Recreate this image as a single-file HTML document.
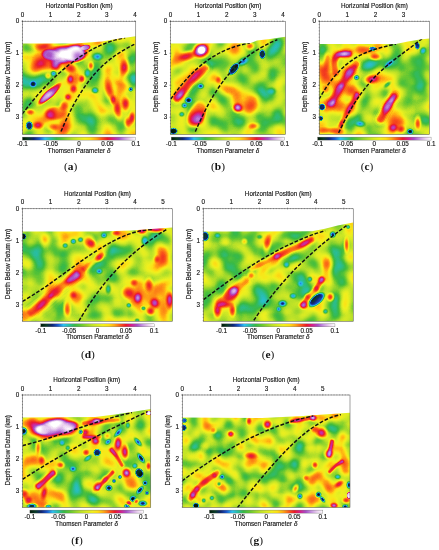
<!DOCTYPE html><html><head><meta charset="utf-8"><title>Figure</title><style>html,body{margin:0;padding:0;background:#fff}svg{display:block}text{font-family:"Liberation Sans",sans-serif;font-size:6.3px;fill:#111;stroke:#111;stroke-width:0.13px}.cap{font-family:"Liberation Serif",serif;font-size:11.4px;fill:#111;stroke:none}.cap tspan{font-weight:bold}</style></head><body>
<svg width="439" height="550" viewBox="0 0 439 550">
<defs>
<filter id="cma" x="0" y="0" width="1" height="1" color-interpolation-filters="sRGB"><feGaussianBlur in="SourceGraphic" stdDeviation="0.7" result="f"/><feTurbulence type="fractalNoise" baseFrequency="0.07" numOctaves="1" seed="1" result="t"/><feColorMatrix in="t" type="matrix" values="1 0 0 0 0 1 0 0 0 0 1 0 0 0 0 0 0 0 0 1" result="n"/><feComposite operator="arithmetic" in="f" in2="n" k1="0" k2="1" k3="0.5" k4="-0.25" result="s"/><feComponentTransfer in="s"><feFuncR type="table" tableValues="0.000 0.019 0.037 0.048 0.057 0.074 0.092 0.124 0.161 0.173 0.166 0.158 0.175 0.197 0.224 0.314 0.438 0.576 0.695 0.791 0.871 0.937 0.979 1.000 1.000 0.993 0.987 0.980 0.961 0.939 0.908 0.870 0.815 0.721 0.662 0.728 0.794 0.860 0.924 0.962 1.000"/><feFuncG type="table" tableValues="0.098 0.163 0.228 0.194 0.147 0.211 0.304 0.467 0.663 0.745 0.745 0.745 0.739 0.732 0.728 0.757 0.795 0.834 0.873 0.904 0.928 0.939 0.900 0.809 0.659 0.554 0.450 0.345 0.263 0.173 0.102 0.111 0.146 0.240 0.343 0.475 0.605 0.718 0.830 0.915 1.000"/><feFuncB type="table" tableValues="0.020 0.085 0.150 0.282 0.422 0.583 0.751 0.849 0.914 0.886 0.769 0.651 0.522 0.389 0.271 0.225 0.190 0.176 0.162 0.150 0.137 0.121 0.095 0.078 0.078 0.085 0.092 0.098 0.118 0.139 0.227 0.416 0.583 0.696 0.795 0.842 0.887 0.915 0.943 0.972 1.000"/></feComponentTransfer></filter>
<filter id="cmb" x="0" y="0" width="1" height="1" color-interpolation-filters="sRGB"><feGaussianBlur in="SourceGraphic" stdDeviation="0.7" result="f"/><feTurbulence type="fractalNoise" baseFrequency="0.07" numOctaves="1" seed="2" result="t"/><feColorMatrix in="t" type="matrix" values="1 0 0 0 0 1 0 0 0 0 1 0 0 0 0 0 0 0 0 1" result="n"/><feComposite operator="arithmetic" in="f" in2="n" k1="0" k2="1" k3="0.5" k4="-0.25" result="s"/><feComponentTransfer in="s"><feFuncR type="table" tableValues="0.000 0.019 0.037 0.048 0.057 0.074 0.092 0.124 0.161 0.173 0.166 0.158 0.175 0.197 0.224 0.314 0.438 0.576 0.695 0.791 0.871 0.937 0.979 1.000 1.000 0.993 0.987 0.980 0.961 0.939 0.908 0.870 0.815 0.721 0.662 0.728 0.794 0.860 0.924 0.962 1.000"/><feFuncG type="table" tableValues="0.098 0.163 0.228 0.194 0.147 0.211 0.304 0.467 0.663 0.745 0.745 0.745 0.739 0.732 0.728 0.757 0.795 0.834 0.873 0.904 0.928 0.939 0.900 0.809 0.659 0.554 0.450 0.345 0.263 0.173 0.102 0.111 0.146 0.240 0.343 0.475 0.605 0.718 0.830 0.915 1.000"/><feFuncB type="table" tableValues="0.020 0.085 0.150 0.282 0.422 0.583 0.751 0.849 0.914 0.886 0.769 0.651 0.522 0.389 0.271 0.225 0.190 0.176 0.162 0.150 0.137 0.121 0.095 0.078 0.078 0.085 0.092 0.098 0.118 0.139 0.227 0.416 0.583 0.696 0.795 0.842 0.887 0.915 0.943 0.972 1.000"/></feComponentTransfer></filter>
<filter id="cmc" x="0" y="0" width="1" height="1" color-interpolation-filters="sRGB"><feGaussianBlur in="SourceGraphic" stdDeviation="0.7" result="f"/><feTurbulence type="fractalNoise" baseFrequency="0.07" numOctaves="1" seed="3" result="t"/><feColorMatrix in="t" type="matrix" values="1 0 0 0 0 1 0 0 0 0 1 0 0 0 0 0 0 0 0 1" result="n"/><feComposite operator="arithmetic" in="f" in2="n" k1="0" k2="1" k3="0.5" k4="-0.25" result="s"/><feComponentTransfer in="s"><feFuncR type="table" tableValues="0.000 0.019 0.037 0.048 0.057 0.074 0.092 0.124 0.161 0.173 0.166 0.158 0.175 0.197 0.224 0.314 0.438 0.576 0.695 0.791 0.871 0.937 0.979 1.000 1.000 0.993 0.987 0.980 0.961 0.939 0.908 0.870 0.815 0.721 0.662 0.728 0.794 0.860 0.924 0.962 1.000"/><feFuncG type="table" tableValues="0.098 0.163 0.228 0.194 0.147 0.211 0.304 0.467 0.663 0.745 0.745 0.745 0.739 0.732 0.728 0.757 0.795 0.834 0.873 0.904 0.928 0.939 0.900 0.809 0.659 0.554 0.450 0.345 0.263 0.173 0.102 0.111 0.146 0.240 0.343 0.475 0.605 0.718 0.830 0.915 1.000"/><feFuncB type="table" tableValues="0.020 0.085 0.150 0.282 0.422 0.583 0.751 0.849 0.914 0.886 0.769 0.651 0.522 0.389 0.271 0.225 0.190 0.176 0.162 0.150 0.137 0.121 0.095 0.078 0.078 0.085 0.092 0.098 0.118 0.139 0.227 0.416 0.583 0.696 0.795 0.842 0.887 0.915 0.943 0.972 1.000"/></feComponentTransfer></filter>
<filter id="cmd" x="0" y="0" width="1" height="1" color-interpolation-filters="sRGB"><feGaussianBlur in="SourceGraphic" stdDeviation="0.7" result="f"/><feTurbulence type="fractalNoise" baseFrequency="0.07" numOctaves="1" seed="4" result="t"/><feColorMatrix in="t" type="matrix" values="1 0 0 0 0 1 0 0 0 0 1 0 0 0 0 0 0 0 0 1" result="n"/><feComposite operator="arithmetic" in="f" in2="n" k1="0" k2="1" k3="0.5" k4="-0.25" result="s"/><feComponentTransfer in="s"><feFuncR type="table" tableValues="0.000 0.019 0.037 0.048 0.057 0.074 0.092 0.124 0.161 0.173 0.166 0.158 0.175 0.197 0.224 0.314 0.438 0.576 0.695 0.791 0.871 0.937 0.979 1.000 1.000 0.993 0.987 0.980 0.961 0.939 0.908 0.870 0.815 0.721 0.662 0.728 0.794 0.860 0.924 0.962 1.000"/><feFuncG type="table" tableValues="0.098 0.163 0.228 0.194 0.147 0.211 0.304 0.467 0.663 0.745 0.745 0.745 0.739 0.732 0.728 0.757 0.795 0.834 0.873 0.904 0.928 0.939 0.900 0.809 0.659 0.554 0.450 0.345 0.263 0.173 0.102 0.111 0.146 0.240 0.343 0.475 0.605 0.718 0.830 0.915 1.000"/><feFuncB type="table" tableValues="0.020 0.085 0.150 0.282 0.422 0.583 0.751 0.849 0.914 0.886 0.769 0.651 0.522 0.389 0.271 0.225 0.190 0.176 0.162 0.150 0.137 0.121 0.095 0.078 0.078 0.085 0.092 0.098 0.118 0.139 0.227 0.416 0.583 0.696 0.795 0.842 0.887 0.915 0.943 0.972 1.000"/></feComponentTransfer></filter>
<filter id="cme" x="0" y="0" width="1" height="1" color-interpolation-filters="sRGB"><feGaussianBlur in="SourceGraphic" stdDeviation="0.7" result="f"/><feTurbulence type="fractalNoise" baseFrequency="0.07" numOctaves="1" seed="5" result="t"/><feColorMatrix in="t" type="matrix" values="1 0 0 0 0 1 0 0 0 0 1 0 0 0 0 0 0 0 0 1" result="n"/><feComposite operator="arithmetic" in="f" in2="n" k1="0" k2="1" k3="0.5" k4="-0.25" result="s"/><feComponentTransfer in="s"><feFuncR type="table" tableValues="0.000 0.019 0.037 0.048 0.057 0.074 0.092 0.124 0.161 0.173 0.166 0.158 0.175 0.197 0.224 0.314 0.438 0.576 0.695 0.791 0.871 0.937 0.979 1.000 1.000 0.993 0.987 0.980 0.961 0.939 0.908 0.870 0.815 0.721 0.662 0.728 0.794 0.860 0.924 0.962 1.000"/><feFuncG type="table" tableValues="0.098 0.163 0.228 0.194 0.147 0.211 0.304 0.467 0.663 0.745 0.745 0.745 0.739 0.732 0.728 0.757 0.795 0.834 0.873 0.904 0.928 0.939 0.900 0.809 0.659 0.554 0.450 0.345 0.263 0.173 0.102 0.111 0.146 0.240 0.343 0.475 0.605 0.718 0.830 0.915 1.000"/><feFuncB type="table" tableValues="0.020 0.085 0.150 0.282 0.422 0.583 0.751 0.849 0.914 0.886 0.769 0.651 0.522 0.389 0.271 0.225 0.190 0.176 0.162 0.150 0.137 0.121 0.095 0.078 0.078 0.085 0.092 0.098 0.118 0.139 0.227 0.416 0.583 0.696 0.795 0.842 0.887 0.915 0.943 0.972 1.000"/></feComponentTransfer></filter>
<filter id="cmf" x="0" y="0" width="1" height="1" color-interpolation-filters="sRGB"><feGaussianBlur in="SourceGraphic" stdDeviation="0.7" result="f"/><feTurbulence type="fractalNoise" baseFrequency="0.07" numOctaves="1" seed="6" result="t"/><feColorMatrix in="t" type="matrix" values="1 0 0 0 0 1 0 0 0 0 1 0 0 0 0 0 0 0 0 1" result="n"/><feComposite operator="arithmetic" in="f" in2="n" k1="0" k2="1" k3="0.5" k4="-0.25" result="s"/><feComponentTransfer in="s"><feFuncR type="table" tableValues="0.000 0.019 0.037 0.048 0.057 0.074 0.092 0.124 0.161 0.173 0.166 0.158 0.175 0.197 0.224 0.314 0.438 0.576 0.695 0.791 0.871 0.937 0.979 1.000 1.000 0.993 0.987 0.980 0.961 0.939 0.908 0.870 0.815 0.721 0.662 0.728 0.794 0.860 0.924 0.962 1.000"/><feFuncG type="table" tableValues="0.098 0.163 0.228 0.194 0.147 0.211 0.304 0.467 0.663 0.745 0.745 0.745 0.739 0.732 0.728 0.757 0.795 0.834 0.873 0.904 0.928 0.939 0.900 0.809 0.659 0.554 0.450 0.345 0.263 0.173 0.102 0.111 0.146 0.240 0.343 0.475 0.605 0.718 0.830 0.915 1.000"/><feFuncB type="table" tableValues="0.020 0.085 0.150 0.282 0.422 0.583 0.751 0.849 0.914 0.886 0.769 0.651 0.522 0.389 0.271 0.225 0.190 0.176 0.162 0.150 0.137 0.121 0.095 0.078 0.078 0.085 0.092 0.098 0.118 0.139 0.227 0.416 0.583 0.696 0.795 0.842 0.887 0.915 0.943 0.972 1.000"/></feComponentTransfer></filter>
<filter id="cmg" x="0" y="0" width="1" height="1" color-interpolation-filters="sRGB"><feGaussianBlur in="SourceGraphic" stdDeviation="0.7" result="f"/><feTurbulence type="fractalNoise" baseFrequency="0.085" numOctaves="1" seed="7" result="t"/><feColorMatrix in="t" type="matrix" values="1 0 0 0 0 1 0 0 0 0 1 0 0 0 0 0 0 0 0 1" result="n"/><feComposite operator="arithmetic" in="f" in2="n" k1="0" k2="1" k3="0.5" k4="-0.25" result="s"/><feComponentTransfer in="s"><feFuncR type="table" tableValues="0.000 0.019 0.037 0.048 0.057 0.074 0.092 0.124 0.161 0.173 0.166 0.158 0.175 0.197 0.224 0.314 0.438 0.576 0.695 0.791 0.871 0.937 0.979 1.000 1.000 0.993 0.987 0.980 0.961 0.939 0.908 0.870 0.815 0.721 0.662 0.728 0.794 0.860 0.924 0.962 1.000"/><feFuncG type="table" tableValues="0.098 0.163 0.228 0.194 0.147 0.211 0.304 0.467 0.663 0.745 0.745 0.745 0.739 0.732 0.728 0.757 0.795 0.834 0.873 0.904 0.928 0.939 0.900 0.809 0.659 0.554 0.450 0.345 0.263 0.173 0.102 0.111 0.146 0.240 0.343 0.475 0.605 0.718 0.830 0.915 1.000"/><feFuncB type="table" tableValues="0.020 0.085 0.150 0.282 0.422 0.583 0.751 0.849 0.914 0.886 0.769 0.651 0.522 0.389 0.271 0.225 0.190 0.176 0.162 0.150 0.137 0.121 0.095 0.078 0.078 0.085 0.092 0.098 0.118 0.139 0.227 0.416 0.583 0.696 0.795 0.842 0.887 0.915 0.943 0.972 1.000"/></feComponentTransfer></filter>
<radialGradient id="gw"><stop offset="0" stop-color="#fff" stop-opacity="1"/><stop offset="0.2" stop-color="#fff" stop-opacity="0.92"/><stop offset="0.4" stop-color="#fff" stop-opacity="0.7"/><stop offset="0.6" stop-color="#fff" stop-opacity="0.4"/><stop offset="0.8" stop-color="#fff" stop-opacity="0.14"/><stop offset="1" stop-color="#fff" stop-opacity="0"/></radialGradient>
<radialGradient id="gk"><stop offset="0" stop-color="#000" stop-opacity="1"/><stop offset="0.2" stop-color="#000" stop-opacity="0.92"/><stop offset="0.4" stop-color="#000" stop-opacity="0.7"/><stop offset="0.6" stop-color="#000" stop-opacity="0.4"/><stop offset="0.8" stop-color="#000" stop-opacity="0.14"/><stop offset="1" stop-color="#000" stop-opacity="0"/></radialGradient>
<radialGradient id="pw"><stop offset="0" stop-color="#fff" stop-opacity="1"/><stop offset="0.5" stop-color="#fff" stop-opacity="1"/><stop offset="0.65" stop-color="#fff" stop-opacity="0.85"/><stop offset="0.8" stop-color="#fff" stop-opacity="0.45"/><stop offset="0.9" stop-color="#fff" stop-opacity="0.15"/><stop offset="1" stop-color="#fff" stop-opacity="0"/></radialGradient>
<radialGradient id="pk"><stop offset="0" stop-color="#000" stop-opacity="1"/><stop offset="0.5" stop-color="#000" stop-opacity="1"/><stop offset="0.65" stop-color="#000" stop-opacity="0.85"/><stop offset="0.8" stop-color="#000" stop-opacity="0.45"/><stop offset="0.9" stop-color="#000" stop-opacity="0.15"/><stop offset="1" stop-color="#000" stop-opacity="0"/></radialGradient>
<linearGradient id="cb"><stop offset="0" stop-color="rgb(0,25,5)"/><stop offset="0.05" stop-color="rgb(10,60,40)"/><stop offset="0.1" stop-color="rgb(15,35,115)"/><stop offset="0.15" stop-color="rgb(25,85,205)"/><stop offset="0.2" stop-color="rgb(45,190,240)"/><stop offset="0.25" stop-color="rgb(40,190,160)"/><stop offset="0.3" stop-color="rgb(55,185,70)"/><stop offset="0.35" stop-color="rgb(95,198,50)"/><stop offset="0.4" stop-color="rgb(145,212,45)"/><stop offset="0.45" stop-color="rgb(188,226,40)"/><stop offset="0.5" stop-color="rgb(218,236,36)"/><stop offset="0.55" stop-color="rgb(242,240,30)"/><stop offset="0.6" stop-color="rgb(255,222,20)"/><stop offset="0.65" stop-color="rgb(255,168,20)"/><stop offset="0.7" stop-color="rgb(250,88,25)"/><stop offset="0.75" stop-color="rgb(235,25,40)"/><stop offset="0.8" stop-color="rgb(215,30,140)"/><stop offset="0.85" stop-color="rgb(165,80,200)"/><stop offset="0.9" stop-color="rgb(200,150,225)"/><stop offset="0.95" stop-color="rgb(235,210,240)"/><stop offset="1" stop-color="rgb(255,255,255)"/></linearGradient>
</defs>
<rect width="439" height="550" fill="#fff"/>
<clipPath id="clipa"><polygon points="22.5,43.6 75.0,43.6 102.0,41.4 118.0,38.7 135.8,36.3 135.8,134.5 22.5,134.5"/></clipPath>
<g clip-path="url(#clipa)"><g filter="url(#cma)">
<rect x="17.5" y="16.2" width="123.2" height="123.2" fill="rgb(122,122,122)"/>
<ellipse cx="28" cy="49.5" rx="12.8" ry="8.8" fill="url(#gk)" opacity="0.4"/>
<ellipse cx="36" cy="80" rx="22.4" ry="16" fill="url(#gk)" opacity="0.28"/>
<ellipse cx="31" cy="88" rx="12.8" ry="19.2" fill="url(#gk)" opacity="0.3"/>
<ellipse cx="30" cy="104" rx="11.2" ry="11.2" fill="url(#gk)" opacity="0.2"/>
<ellipse cx="107" cy="50" rx="27.2" ry="9.6" fill="url(#gk)" opacity="0.32" transform="rotate(-15 107 50)"/>
<ellipse cx="90" cy="78" rx="14.4" ry="28.8" fill="url(#gk)" opacity="0.32" transform="rotate(40 90 78)"/>
<ellipse cx="134" cy="60" rx="11.2" ry="14.4" fill="url(#gk)" opacity="0.3"/>
<ellipse cx="134" cy="80" rx="8" ry="16" fill="url(#gk)" opacity="0.25"/>
<ellipse cx="85" cy="117" rx="20.8" ry="17.6" fill="url(#gk)" opacity="0.22"/>
<ellipse cx="105" cy="122" rx="16" ry="11.2" fill="url(#gk)" opacity="0.2"/>
<ellipse cx="45" cy="62" rx="25.6" ry="14.4" fill="url(#gw)" opacity="0.2"/>
<ellipse cx="40" cy="60" rx="35.2" ry="25.6" fill="url(#gw)" opacity="0.22"/>
<ellipse cx="52" cy="118" rx="32" ry="19.2" fill="url(#gw)" opacity="0.18"/>
<ellipse cx="118" cy="95" rx="22.4" ry="48" fill="url(#gw)" opacity="0.06"/>
<ellipse cx="75" cy="95" rx="12.8" ry="32" fill="url(#gw)" opacity="0.22" transform="rotate(25 75 95)"/>
<ellipse cx="66" cy="128" rx="16" ry="8" fill="url(#gw)" opacity="0.2"/>
<ellipse cx="75" cy="82" rx="12.8" ry="19.2" fill="url(#gw)" opacity="0.22" transform="rotate(30 75 82)"/>
<ellipse cx="120" cy="85" rx="16" ry="35.2" fill="url(#gw)" opacity="0.08"/>
<ellipse cx="100" cy="41" rx="32" ry="5.6" fill="url(#gw)" opacity="0.3" transform="rotate(-15 100 41)"/>
<ellipse cx="100" cy="110" rx="11.2" ry="19.2" fill="url(#gw)" opacity="0.15"/>
<ellipse cx="33.1" cy="84.2" rx="4.16" ry="4.16" fill="url(#gk)" opacity="0.97"/>
<ellipse cx="53.7" cy="73.3" rx="4" ry="4" fill="url(#gk)" opacity="0.55"/>
<ellipse cx="97.4" cy="56.5" rx="7.2" ry="4.8" fill="url(#gk)" opacity="0.55"/>
<ellipse cx="87.3" cy="73.3" rx="4" ry="5.6" fill="url(#gk)" opacity="0.5"/>
<ellipse cx="95" cy="90.6" rx="4.8" ry="4.16" fill="url(#gk)" opacity="0.62"/>
<ellipse cx="130.7" cy="89.3" rx="2.88" ry="2.88" fill="url(#gk)" opacity="0.8"/>
<ellipse cx="29.3" cy="125.5" rx="4.2" ry="4.8" fill="url(#pk)" opacity="0.86"/>
<ellipse cx="43" cy="47" rx="12.48" ry="6.24" fill="url(#gw)" opacity="0.392"/>
<ellipse cx="55.5" cy="65" rx="7.28" ry="7.28" fill="url(#gw)" opacity="0.504"/>
<ellipse cx="69.7" cy="68.5" rx="9.36" ry="7.28" fill="url(#gw)" opacity="0.504"/>
<ellipse cx="123.8" cy="68.5" rx="6.24" ry="13.52" fill="url(#gw)" opacity="0.504" transform="rotate(10 123.8 68.5)"/>
<ellipse cx="109.2" cy="90" rx="6.24" ry="14.56" fill="url(#gw)" opacity="0.504" transform="rotate(-10 109.2 90)"/>
<ellipse cx="125.6" cy="104.2" rx="5.2" ry="10.4" fill="url(#gw)" opacity="0.448"/>
<ellipse cx="117.5" cy="109" rx="5.2" ry="14.56" fill="url(#gw)" opacity="0.4032" transform="rotate(-10 117.5 109)"/>
<ellipse cx="128" cy="122.8" rx="5.2" ry="7.28" fill="url(#gw)" opacity="0.448"/>
<ellipse cx="56" cy="113" rx="13" ry="8" fill="url(#pw)" opacity="0.3" transform="rotate(-10 56 113)"/>
<ellipse cx="37.8" cy="125.5" rx="7.28" ry="5.2" fill="url(#gw)" opacity="0.448"/>
<ellipse cx="52.8" cy="127" rx="8.32" ry="5.2" fill="url(#gw)" opacity="0.448"/>
<ellipse cx="70" cy="79" rx="4.576" ry="6.24" fill="url(#gw)" opacity="0.504"/>
<ellipse cx="73.5" cy="89" rx="4.576" ry="5.2" fill="url(#gw)" opacity="0.504"/>
<ellipse cx="82" cy="79" rx="4.16" ry="5.2" fill="url(#gw)" opacity="0.504"/>
<ellipse cx="68" cy="97" rx="4.16" ry="4.16" fill="url(#gw)" opacity="0.448"/>
<ellipse cx="91" cy="66" rx="4.16" ry="6.24" fill="url(#gw)" opacity="0.504"/>
<ellipse cx="64" cy="106" rx="6.24" ry="6.24" fill="url(#gw)" opacity="0.504"/>
<ellipse cx="48" cy="76" rx="4.16" ry="4.16" fill="url(#gw)" opacity="0.392"/>
<ellipse cx="30" cy="112" rx="6.24" ry="4.16" fill="url(#gw)" opacity="0.392"/>
<ellipse cx="113" cy="100" rx="4.16" ry="6.24" fill="url(#gw)" opacity="0.504"/>
<ellipse cx="132" cy="118" rx="4.16" ry="8.32" fill="url(#gw)" opacity="0.448"/>
<ellipse cx="50" cy="93.5" rx="17" ry="4.8" fill="url(#pw)" opacity="0.6" transform="rotate(-43 50 93.5)"/>
<ellipse cx="46.5" cy="97" rx="14.56" ry="4.576" fill="url(#gw)" opacity="0.672" transform="rotate(-43 46.5 97)"/>
<ellipse cx="66" cy="54" rx="27" ry="11.5" fill="url(#pw)" opacity="0.6" transform="rotate(-5 66 54)"/>
<ellipse cx="51" cy="54.8" rx="11" ry="6.4" fill="url(#pw)" opacity="0.68" transform="rotate(10 51 54.8)"/>
<ellipse cx="75" cy="54" rx="12" ry="9.5" fill="url(#pw)" opacity="0.95"/>
<ellipse cx="85.5" cy="47.5" rx="6" ry="3.2" fill="url(#pw)" opacity="0.7" transform="rotate(-10 85.5 47.5)"/>
<ellipse cx="63" cy="52.5" rx="12.48" ry="8.32" fill="url(#gw)" opacity="0.784"/>
</g></g>
<path d="M22.2 114.0C23.8 112.1 28.4 106.0 31.6 102.2C34.7 98.4 37.8 94.8 40.9 91.4C44.0 87.9 47.2 84.7 50.3 81.6C53.4 78.4 56.5 75.5 59.7 72.7C62.8 69.9 65.9 67.3 69.0 64.8C72.1 62.4 75.3 60.1 78.4 57.9C81.5 55.8 84.6 53.8 87.7 52.0C90.9 50.2 94.0 48.5 97.1 47.0C100.2 45.5 103.4 44.1 106.5 42.9C109.6 41.7 112.7 40.7 115.8 39.8C119.0 38.9 123.6 38.0 125.2 37.6" fill="none" stroke="#111" stroke-width="1.45" stroke-dasharray="3.7 1.7" clip-path="url(#clipa)"/>
<path d="M61.0 131.5C62.1 129.0 65.4 121.2 67.7 116.5C69.9 111.9 72.1 107.6 74.3 103.5C76.5 99.5 78.8 95.7 81.0 92.3C83.2 88.8 85.4 85.6 87.7 82.6C89.9 79.6 92.1 76.9 94.3 74.3C96.5 71.8 98.8 69.4 101.0 67.3C103.2 65.1 105.4 63.1 107.6 61.3C109.9 59.4 112.1 57.7 114.3 56.2C116.5 54.6 118.8 53.1 121.0 51.7C123.2 50.4 125.4 49.1 127.6 47.8C129.9 46.6 133.2 44.9 134.3 44.3" fill="none" stroke="#111" stroke-width="1.45" stroke-dasharray="3.7 1.7" clip-path="url(#clipa)"/>
<rect x="22.50" y="21.25" width="113.25" height="113.25" fill="none" stroke="#555" stroke-width="0.55"/>
<path d="M22.50 20.17v1.8M25.31 20.71v0.9M28.12 20.71v0.9M30.93 20.71v0.9M33.74 20.71v0.9M36.55 20.71v0.9M39.36 20.71v0.9M42.17 20.71v0.9M44.98 20.71v0.9M47.79 20.71v0.9M50.60 20.17v1.8M53.41 20.71v0.9M56.22 20.71v0.9M59.03 20.71v0.9M61.84 20.71v0.9M64.65 20.71v0.9M67.46 20.71v0.9M70.27 20.71v0.9M73.08 20.71v0.9M75.89 20.71v0.9M78.70 20.17v1.8M81.51 20.71v0.9M84.32 20.71v0.9M87.13 20.71v0.9M89.94 20.71v0.9M92.75 20.71v0.9M95.56 20.71v0.9M98.37 20.71v0.9M101.18 20.71v0.9M103.99 20.71v0.9M106.80 20.17v1.8M109.61 20.71v0.9M112.42 20.71v0.9M115.23 20.71v0.9M118.04 20.71v0.9M120.85 20.71v0.9M123.66 20.71v0.9M126.47 20.71v0.9M129.28 20.71v0.9M132.09 20.71v0.9M134.90 20.17v1.8M21.42 21.25h1.8M21.96 24.45h0.9M21.96 27.65h0.9M21.96 30.85h0.9M21.96 34.05h0.9M21.96 37.25h0.9M21.96 40.45h0.9M21.96 43.65h0.9M21.96 46.85h0.9M21.96 50.05h0.9M21.42 53.25h1.8M21.96 56.45h0.9M21.96 59.65h0.9M21.96 62.85h0.9M21.96 66.05h0.9M21.96 69.25h0.9M21.96 72.45h0.9M21.96 75.65h0.9M21.96 78.85h0.9M21.96 82.05h0.9M21.42 85.25h1.8M21.96 88.45h0.9M21.96 91.65h0.9M21.96 94.85h0.9M21.96 98.05h0.9M21.96 101.25h0.9M21.96 104.45h0.9M21.96 107.65h0.9M21.96 110.85h0.9M21.96 114.05h0.9M21.42 117.25h1.8M21.96 120.45h0.9M21.96 123.65h0.9M21.96 126.85h0.9M21.96 130.05h0.9M21.96 133.25h0.9" stroke="#333" stroke-width="0.45" fill="none"/>
<text x="22.50" y="16.95" text-anchor="middle" font-size="5.9">0</text>
<text x="50.60" y="16.95" text-anchor="middle" font-size="5.9">1</text>
<text x="78.70" y="16.95" text-anchor="middle" font-size="5.9">2</text>
<text x="106.80" y="16.95" text-anchor="middle" font-size="5.9">3</text>
<text x="134.90" y="16.95" text-anchor="middle" font-size="5.9">4</text>
<text x="19.20" y="23.35" text-anchor="end" font-size="5.9">0</text>
<text x="19.20" y="55.35" text-anchor="end" font-size="5.9">1</text>
<text x="19.20" y="87.35" text-anchor="end" font-size="5.9">2</text>
<text x="19.20" y="119.35" text-anchor="end" font-size="5.9">3</text>
<text x="79.12" y="8.45" text-anchor="middle">Horizontal Position (km)</text>
<text transform="translate(10.30 76.88) rotate(-90)" text-anchor="middle">Depth Below Datum (km)</text>
<rect x="22.42" y="137.10" width="113.40" height="3.00" fill="url(#cb)" stroke="#555" stroke-width="0.3"/>
<text x="22.42" y="146.40" text-anchor="middle" font-size="5.9">-0.1</text>
<text x="50.77" y="146.40" text-anchor="middle" font-size="5.9">-0.05</text>
<text x="79.12" y="146.40" text-anchor="middle" font-size="5.9">0</text>
<text x="107.48" y="146.40" text-anchor="middle" font-size="5.9">0.05</text>
<text x="135.82" y="146.40" text-anchor="middle" font-size="5.9">0.1</text>
<text x="79.12" y="152.60" text-anchor="middle">Thomsen Parameter <tspan font-style="italic">δ</tspan></text>
<text class="cap" x="70.70" y="169.80" text-anchor="middle">(<tspan>a</tspan>)</text>
<clipPath id="clipb"><polygon points="170.5,43.4 250.0,43.2 257.0,40.6 270.0,39.0 285.5,36.8 285.5,134.5 170.5,134.5"/></clipPath>
<g clip-path="url(#clipb)"><g filter="url(#cmb)">
<rect x="165.5" y="16.2" width="125.0" height="123.2" fill="rgb(122,122,122)"/>
<ellipse cx="262" cy="90" rx="35.2" ry="64" fill="url(#gk)" opacity="0.22"/>
<ellipse cx="275" cy="60" rx="16" ry="22.4" fill="url(#gk)" opacity="0.2"/>
<ellipse cx="278" cy="49" rx="14.4" ry="12.8" fill="url(#gk)" opacity="0.3"/>
<ellipse cx="215" cy="62" rx="16" ry="8" fill="url(#gk)" opacity="0.25" transform="rotate(-35 215 62)"/>
<ellipse cx="196" cy="92" rx="9.6" ry="19.2" fill="url(#gk)" opacity="0.3" transform="rotate(40 196 92)"/>
<ellipse cx="224" cy="110" rx="12.8" ry="22.4" fill="url(#gk)" opacity="0.2" transform="rotate(20 224 110)"/>
<ellipse cx="230" cy="125" rx="22.4" ry="9.6" fill="url(#gk)" opacity="0.2"/>
<ellipse cx="178" cy="62" rx="12.8" ry="22.4" fill="url(#gw)" opacity="0.15"/>
<ellipse cx="225" cy="88" rx="12.8" ry="9.6" fill="url(#gw)" opacity="0.2"/>
<ellipse cx="266" cy="83" rx="9.6" ry="14.4" fill="url(#gw)" opacity="0.18"/>
<ellipse cx="250" cy="103" rx="20.8" ry="14.56" fill="url(#gw)" opacity="0.4256"/>
<ellipse cx="254" cy="126" rx="8" ry="4.8" fill="url(#gw)" opacity="0.3"/>
<ellipse cx="190" cy="56" rx="12.8" ry="6.4" fill="url(#gw)" opacity="0.3" transform="rotate(-20 190 56)"/>
<ellipse cx="262.3" cy="54.2" rx="3.4" ry="5.4" fill="url(#pk)" opacity="0.86"/>
<ellipse cx="233.8" cy="69" rx="4.2" ry="8.2" fill="url(#pk)" opacity="0.86" transform="rotate(38 233.8 69)"/>
<ellipse cx="243" cy="61.5" rx="8" ry="4.8" fill="url(#gk)" opacity="0.55" transform="rotate(-30 243 61.5)"/>
<ellipse cx="200.8" cy="86.2" rx="4.16" ry="3.52" fill="url(#gk)" opacity="0.75"/>
<ellipse cx="188.5" cy="100.1" rx="4.8" ry="3.84" fill="url(#gk)" opacity="0.9"/>
<ellipse cx="184.4" cy="105.5" rx="3.84" ry="3.52" fill="url(#gk)" opacity="0.6"/>
<ellipse cx="181.7" cy="114.3" rx="3.84" ry="3.52" fill="url(#gk)" opacity="0.55"/>
<ellipse cx="173.5" cy="131" rx="4.5" ry="3.5" fill="url(#pk)" opacity="0.9"/>
<ellipse cx="271.9" cy="91" rx="6.4" ry="4.8" fill="url(#gk)" opacity="0.3"/>
<ellipse cx="250" cy="46" rx="6.24" ry="5.824" fill="url(#gw)" opacity="0.616"/>
<ellipse cx="218.6" cy="80" rx="4" ry="4.8" fill="url(#gw)" opacity="0.3"/>
<path d="M177.0 98.0C178.2 96.7 181.3 93.0 184.0 90.0C186.7 87.0 189.5 83.7 193.0 80.0C196.5 76.3 203.0 70.0 205.0 68.0" fill="none" stroke="#fff" stroke-width="14.26" stroke-linecap="round" stroke-linejoin="round" opacity="0.056"/>
<path d="M177.0 98.0C178.2 96.7 181.3 93.0 184.0 90.0C186.7 87.0 189.5 83.7 193.0 80.0C196.5 76.3 203.0 70.0 205.0 68.0" fill="none" stroke="#fff" stroke-width="10.85" stroke-linecap="round" stroke-linejoin="round" opacity="0.107"/>
<path d="M177.0 98.0C178.2 96.7 181.3 93.0 184.0 90.0C186.7 87.0 189.5 83.7 193.0 80.0C196.5 76.3 203.0 70.0 205.0 68.0" fill="none" stroke="#fff" stroke-width="8.06" stroke-linecap="round" stroke-linejoin="round" opacity="0.199"/>
<path d="M177.0 98.0C178.2 96.7 181.3 93.0 184.0 90.0C186.7 87.0 189.5 83.7 193.0 80.0C196.5 76.3 203.0 70.0 205.0 68.0" fill="none" stroke="#fff" stroke-width="5.89" stroke-linecap="round" stroke-linejoin="round" opacity="0.224"/>
<path d="M177.0 98.0C178.2 96.7 181.3 93.0 184.0 90.0C186.7 87.0 189.5 83.7 193.0 80.0C196.5 76.3 203.0 70.0 205.0 68.0" fill="none" stroke="#fff" stroke-width="3.41" stroke-linecap="round" stroke-linejoin="round" opacity="0.160"/>
<ellipse cx="180.5" cy="95" rx="6.4" ry="3.2" fill="url(#gw)" opacity="0.25" transform="rotate(-47 180.5 95)"/>
<ellipse cx="197" cy="114" rx="10" ry="16" fill="url(#pw)" opacity="0.5" transform="rotate(25 197 114)"/>
<ellipse cx="194.5" cy="117.5" rx="8.32" ry="13.52" fill="url(#gw)" opacity="0.448" transform="rotate(25 194.5 117.5)"/>
<ellipse cx="237.7" cy="108" rx="6.656" ry="6.24" fill="url(#gw)" opacity="0.784"/>
<ellipse cx="187" cy="55.5" rx="10.4" ry="6.24" fill="url(#gw)" opacity="0.448" transform="rotate(-20 187 55.5)"/>
<ellipse cx="201.4" cy="51" rx="10" ry="9" fill="url(#pw)" opacity="0.45"/>
<ellipse cx="201.4" cy="50.6" rx="7" ry="6.6" fill="url(#pw)" opacity="0.4"/>
<ellipse cx="201.6" cy="50.4" rx="4.4" ry="4.2" fill="url(#pw)" opacity="1"/>
</g></g>
<path d="M170.7 99.1C171.9 97.5 175.5 92.4 177.9 89.4C180.3 86.3 182.7 83.4 185.1 80.8C187.5 78.1 189.9 75.6 192.3 73.2C194.7 70.8 197.1 68.7 199.5 66.6C201.9 64.6 204.3 62.7 206.7 61.0C209.1 59.2 211.6 57.7 214.0 56.2C216.4 54.7 218.8 53.4 221.2 52.2C223.6 51.0 226.0 49.9 228.4 49.0C230.8 48.0 233.2 47.2 235.6 46.4C238.0 45.7 240.4 45.0 242.8 44.5C245.2 43.9 248.8 43.3 250.0 43.1" fill="none" stroke="#111" stroke-width="1.45" stroke-dasharray="3.7 1.7" clip-path="url(#clipb)"/>
<path d="M195.3 131.6C196.5 128.9 200.3 120.4 202.8 115.3C205.2 110.2 207.7 105.5 210.2 101.2C212.7 96.8 215.2 92.8 217.7 89.0C220.1 85.3 222.6 81.9 225.1 78.7C227.6 75.5 230.1 72.6 232.6 70.0C235.1 67.3 237.5 64.9 240.0 62.6C242.5 60.4 245.0 58.3 247.5 56.4C250.0 54.5 252.5 52.9 254.9 51.3C257.4 49.7 259.9 48.2 262.4 46.8C264.9 45.5 267.4 44.2 269.8 43.0C272.3 41.8 276.1 40.1 277.3 39.6" fill="none" stroke="#111" stroke-width="1.45" stroke-dasharray="3.7 1.7" clip-path="url(#clipb)"/>
<rect x="170.50" y="21.25" width="115.00" height="113.25" fill="none" stroke="#555" stroke-width="0.55"/>
<path d="M170.50 20.17v1.8M173.31 20.71v0.9M176.12 20.71v0.9M178.93 20.71v0.9M181.74 20.71v0.9M184.55 20.71v0.9M187.36 20.71v0.9M190.17 20.71v0.9M192.98 20.71v0.9M195.79 20.71v0.9M198.60 20.17v1.8M201.41 20.71v0.9M204.22 20.71v0.9M207.03 20.71v0.9M209.84 20.71v0.9M212.65 20.71v0.9M215.46 20.71v0.9M218.27 20.71v0.9M221.08 20.71v0.9M223.89 20.71v0.9M226.70 20.17v1.8M229.51 20.71v0.9M232.32 20.71v0.9M235.13 20.71v0.9M237.94 20.71v0.9M240.75 20.71v0.9M243.56 20.71v0.9M246.37 20.71v0.9M249.18 20.71v0.9M251.99 20.71v0.9M254.80 20.17v1.8M257.61 20.71v0.9M260.42 20.71v0.9M263.23 20.71v0.9M266.04 20.71v0.9M268.85 20.71v0.9M271.66 20.71v0.9M274.47 20.71v0.9M277.28 20.71v0.9M280.09 20.71v0.9M282.90 20.17v1.8M169.42 21.25h1.8M169.96 24.45h0.9M169.96 27.65h0.9M169.96 30.85h0.9M169.96 34.05h0.9M169.96 37.25h0.9M169.96 40.45h0.9M169.96 43.65h0.9M169.96 46.85h0.9M169.96 50.05h0.9M169.42 53.25h1.8M169.96 56.45h0.9M169.96 59.65h0.9M169.96 62.85h0.9M169.96 66.05h0.9M169.96 69.25h0.9M169.96 72.45h0.9M169.96 75.65h0.9M169.96 78.85h0.9M169.96 82.05h0.9M169.42 85.25h1.8M169.96 88.45h0.9M169.96 91.65h0.9M169.96 94.85h0.9M169.96 98.05h0.9M169.96 101.25h0.9M169.96 104.45h0.9M169.96 107.65h0.9M169.96 110.85h0.9M169.96 114.05h0.9M169.42 117.25h1.8M169.96 120.45h0.9M169.96 123.65h0.9M169.96 126.85h0.9M169.96 130.05h0.9M169.96 133.25h0.9" stroke="#333" stroke-width="0.45" fill="none"/>
<text x="170.50" y="16.95" text-anchor="middle" font-size="5.9">0</text>
<text x="198.60" y="16.95" text-anchor="middle" font-size="5.9">1</text>
<text x="226.70" y="16.95" text-anchor="middle" font-size="5.9">2</text>
<text x="254.80" y="16.95" text-anchor="middle" font-size="5.9">3</text>
<text x="282.90" y="16.95" text-anchor="middle" font-size="5.9">4</text>
<text x="167.20" y="23.35" text-anchor="end" font-size="5.9">0</text>
<text x="167.20" y="55.35" text-anchor="end" font-size="5.9">1</text>
<text x="167.20" y="87.35" text-anchor="end" font-size="5.9">2</text>
<text x="167.20" y="119.35" text-anchor="end" font-size="5.9">3</text>
<text x="228.00" y="8.45" text-anchor="middle">Horizontal Position (km)</text>
<text transform="translate(158.30 76.88) rotate(-90)" text-anchor="middle">Depth Below Datum (km)</text>
<rect x="171.30" y="137.10" width="113.40" height="3.00" fill="url(#cb)" stroke="#555" stroke-width="0.3"/>
<text x="171.30" y="146.40" text-anchor="middle" font-size="5.9">-0.1</text>
<text x="199.65" y="146.40" text-anchor="middle" font-size="5.9">-0.05</text>
<text x="228.00" y="146.40" text-anchor="middle" font-size="5.9">0</text>
<text x="256.35" y="146.40" text-anchor="middle" font-size="5.9">0.05</text>
<text x="284.70" y="146.40" text-anchor="middle" font-size="5.9">0.1</text>
<text x="228.00" y="152.60" text-anchor="middle">Thomsen Parameter <tspan font-style="italic">δ</tspan></text>
<text class="cap" x="218.00" y="169.80" text-anchor="middle">(<tspan>b</tspan>)</text>
<clipPath id="clipc"><polygon points="319.2,44.0 396.0,44.0 408.0,41.5 420.0,39.5 429.5,38.4 429.5,134.5 319.2,134.5"/></clipPath>
<g clip-path="url(#clipc)"><g filter="url(#cmc)">
<rect x="314.2" y="16.2" width="120.2" height="123.2" fill="rgb(122,122,122)"/>
<ellipse cx="412" cy="76" rx="25.6" ry="44.8" fill="url(#gk)" opacity="0.25"/>
<ellipse cx="392" cy="60" rx="16" ry="9.6" fill="url(#gk)" opacity="0.25" transform="rotate(-35 392 60)"/>
<ellipse cx="325" cy="50" rx="9.6" ry="8" fill="url(#gk)" opacity="0.25"/>
<ellipse cx="370" cy="66" rx="14.4" ry="9.6" fill="url(#gk)" opacity="0.25" transform="rotate(-35 370 66)"/>
<ellipse cx="362" cy="110" rx="12.8" ry="22.4" fill="url(#gk)" opacity="0.25" transform="rotate(25 362 110)"/>
<ellipse cx="420" cy="115" rx="12.8" ry="19.2" fill="url(#gk)" opacity="0.2"/>
<ellipse cx="372" cy="125" rx="16" ry="9.6" fill="url(#gk)" opacity="0.2"/>
<ellipse cx="326" cy="70" rx="9.6" ry="19.2" fill="url(#gw)" opacity="0.25"/>
<ellipse cx="337" cy="85" rx="25.6" ry="54.4" fill="url(#gw)" opacity="0.2" transform="rotate(15 337 85)"/>
<ellipse cx="404" cy="115" rx="12.8" ry="22.4" fill="url(#gw)" opacity="0.22"/>
<ellipse cx="380" cy="85" rx="9.6" ry="12.8" fill="url(#gw)" opacity="0.15"/>
<ellipse cx="350" cy="90" rx="8" ry="12.8" fill="url(#gw)" opacity="0.2" transform="rotate(30 350 90)"/>
<ellipse cx="353" cy="108" rx="9.6" ry="22.4" fill="url(#gw)" opacity="0.25" transform="rotate(28 353 108)"/>
<ellipse cx="365" cy="50" rx="16" ry="6.4" fill="url(#gw)" opacity="0.2"/>
<ellipse cx="395" cy="125" rx="19.2" ry="11.2" fill="url(#gw)" opacity="0.2"/>
<ellipse cx="322.2" cy="107" rx="4" ry="4" fill="url(#pk)" opacity="1"/>
<ellipse cx="320.8" cy="118.4" rx="2.8" ry="2.8" fill="url(#pk)" opacity="0.85"/>
<ellipse cx="356.4" cy="77.4" rx="3.84" ry="3.52" fill="url(#gk)" opacity="0.75"/>
<ellipse cx="372.8" cy="48.7" rx="4.2" ry="2.6" fill="url(#pk)" opacity="0.88"/>
<ellipse cx="417.3" cy="46" rx="2.8" ry="4" fill="url(#pk)" opacity="0.85"/>
<ellipse cx="423" cy="50.5" rx="4" ry="4.8" fill="url(#gk)" opacity="0.5" transform="rotate(30 423 50.5)"/>
<ellipse cx="389" cy="63.7" rx="8" ry="3.2" fill="url(#gk)" opacity="0.45" transform="rotate(-40 389 63.7)"/>
<ellipse cx="387.8" cy="84.2" rx="6.4" ry="3.2" fill="url(#gk)" opacity="0.45" transform="rotate(-40 387.8 84.2)"/>
<ellipse cx="360.5" cy="124" rx="6.4" ry="4" fill="url(#gk)" opacity="0.5"/>
<ellipse cx="410.2" cy="131.5" rx="3.84" ry="3.52" fill="url(#gk)" opacity="0.9"/>
<path d="M349.0 54.0C347.3 54.1 341.4 53.3 339.0 54.5C336.6 55.7 335.1 57.9 334.5 61.0C333.9 64.1 335.3 71.0 335.5 73.0" fill="none" stroke="#fff" stroke-width="11.96" stroke-linecap="round" stroke-linejoin="round" opacity="0.055"/>
<path d="M349.0 54.0C347.3 54.1 341.4 53.3 339.0 54.5C336.6 55.7 335.1 57.9 334.5 61.0C333.9 64.1 335.3 71.0 335.5 73.0" fill="none" stroke="#fff" stroke-width="9.10" stroke-linecap="round" stroke-linejoin="round" opacity="0.105"/>
<path d="M349.0 54.0C347.3 54.1 341.4 53.3 339.0 54.5C336.6 55.7 335.1 57.9 334.5 61.0C333.9 64.1 335.3 71.0 335.5 73.0" fill="none" stroke="#fff" stroke-width="6.76" stroke-linecap="round" stroke-linejoin="round" opacity="0.195"/>
<path d="M349.0 54.0C347.3 54.1 341.4 53.3 339.0 54.5C336.6 55.7 335.1 57.9 334.5 61.0C333.9 64.1 335.3 71.0 335.5 73.0" fill="none" stroke="#fff" stroke-width="4.94" stroke-linecap="round" stroke-linejoin="round" opacity="0.218"/>
<path d="M349.0 54.0C347.3 54.1 341.4 53.3 339.0 54.5C336.6 55.7 335.1 57.9 334.5 61.0C333.9 64.1 335.3 71.0 335.5 73.0" fill="none" stroke="#fff" stroke-width="2.86" stroke-linecap="round" stroke-linejoin="round" opacity="0.155"/>
<ellipse cx="343" cy="54.2" rx="9.36" ry="4.16" fill="url(#gw)" opacity="0.448" transform="rotate(-5 343 54.2)"/>
<path d="M356.0 64.5C355.0 65.8 352.1 69.1 350.0 72.0C347.9 74.9 345.7 78.5 343.5 82.0C341.3 85.5 339.1 89.5 337.0 93.0C334.9 96.5 332.0 101.3 331.0 103.0" fill="none" stroke="#fff" stroke-width="14.72" stroke-linecap="round" stroke-linejoin="round" opacity="0.052"/>
<path d="M356.0 64.5C355.0 65.8 352.1 69.1 350.0 72.0C347.9 74.9 345.7 78.5 343.5 82.0C341.3 85.5 339.1 89.5 337.0 93.0C334.9 96.5 332.0 101.3 331.0 103.0" fill="none" stroke="#fff" stroke-width="11.20" stroke-linecap="round" stroke-linejoin="round" opacity="0.099"/>
<path d="M356.0 64.5C355.0 65.8 352.1 69.1 350.0 72.0C347.9 74.9 345.7 78.5 343.5 82.0C341.3 85.5 339.1 89.5 337.0 93.0C334.9 96.5 332.0 101.3 331.0 103.0" fill="none" stroke="#fff" stroke-width="8.32" stroke-linecap="round" stroke-linejoin="round" opacity="0.183"/>
<path d="M356.0 64.5C355.0 65.8 352.1 69.1 350.0 72.0C347.9 74.9 345.7 78.5 343.5 82.0C341.3 85.5 339.1 89.5 337.0 93.0C334.9 96.5 332.0 101.3 331.0 103.0" fill="none" stroke="#fff" stroke-width="6.08" stroke-linecap="round" stroke-linejoin="round" opacity="0.201"/>
<path d="M356.0 64.5C355.0 65.8 352.1 69.1 350.0 72.0C347.9 74.9 345.7 78.5 343.5 82.0C341.3 85.5 339.1 89.5 337.0 93.0C334.9 96.5 332.0 101.3 331.0 103.0" fill="none" stroke="#fff" stroke-width="3.52" stroke-linecap="round" stroke-linejoin="round" opacity="0.140"/>
<ellipse cx="355" cy="66.5" rx="3.52" ry="3.2" fill="url(#gw)" opacity="0.3"/>
<ellipse cx="341.5" cy="85.6" rx="3.2" ry="4.48" fill="url(#gw)" opacity="0.3" transform="rotate(30 341.5 85.6)"/>
<ellipse cx="333" cy="102" rx="3.2" ry="4.16" fill="url(#gw)" opacity="0.3" transform="rotate(30 333 102)"/>
<ellipse cx="375.5" cy="57" rx="8.32" ry="4.992" fill="url(#gw)" opacity="0.504"/>
<ellipse cx="371.4" cy="79.6" rx="10.4" ry="6.24" fill="url(#gw)" opacity="0.616" transform="rotate(-10 371.4 79.6)"/>
<path d="M357.0 95.0C356.2 96.5 353.8 100.7 352.0 104.0C350.2 107.3 347.8 111.4 346.0 115.0C344.2 118.6 341.8 123.8 341.0 125.5" fill="none" stroke="#fff" stroke-width="9.20" stroke-linecap="round" stroke-linejoin="round" opacity="0.045"/>
<path d="M357.0 95.0C356.2 96.5 353.8 100.7 352.0 104.0C350.2 107.3 347.8 111.4 346.0 115.0C344.2 118.6 341.8 123.8 341.0 125.5" fill="none" stroke="#fff" stroke-width="7.00" stroke-linecap="round" stroke-linejoin="round" opacity="0.085"/>
<path d="M357.0 95.0C356.2 96.5 353.8 100.7 352.0 104.0C350.2 107.3 347.8 111.4 346.0 115.0C344.2 118.6 341.8 123.8 341.0 125.5" fill="none" stroke="#fff" stroke-width="5.20" stroke-linecap="round" stroke-linejoin="round" opacity="0.154"/>
<path d="M357.0 95.0C356.2 96.5 353.8 100.7 352.0 104.0C350.2 107.3 347.8 111.4 346.0 115.0C344.2 118.6 341.8 123.8 341.0 125.5" fill="none" stroke="#fff" stroke-width="3.80" stroke-linecap="round" stroke-linejoin="round" opacity="0.164"/>
<path d="M357.0 95.0C356.2 96.5 353.8 100.7 352.0 104.0C350.2 107.3 347.8 111.4 346.0 115.0C344.2 118.6 341.8 123.8 341.0 125.5" fill="none" stroke="#fff" stroke-width="2.20" stroke-linecap="round" stroke-linejoin="round" opacity="0.109"/>
<ellipse cx="341.5" cy="122.5" rx="3.2" ry="4.16" fill="url(#gw)" opacity="0.3" transform="rotate(20 341.5 122.5)"/>
<path d="M380.5 119.0C381.2 117.5 383.4 112.8 385.0 110.0C386.6 107.2 388.6 104.2 390.0 102.0C391.4 99.8 392.9 97.8 393.5 97.0" fill="none" stroke="#fff" stroke-width="14.95" stroke-linecap="round" stroke-linejoin="round" opacity="0.052"/>
<path d="M380.5 119.0C381.2 117.5 383.4 112.8 385.0 110.0C386.6 107.2 388.6 104.2 390.0 102.0C391.4 99.8 392.9 97.8 393.5 97.0" fill="none" stroke="#fff" stroke-width="11.38" stroke-linecap="round" stroke-linejoin="round" opacity="0.099"/>
<path d="M380.5 119.0C381.2 117.5 383.4 112.8 385.0 110.0C386.6 107.2 388.6 104.2 390.0 102.0C391.4 99.8 392.9 97.8 393.5 97.0" fill="none" stroke="#fff" stroke-width="8.45" stroke-linecap="round" stroke-linejoin="round" opacity="0.183"/>
<path d="M380.5 119.0C381.2 117.5 383.4 112.8 385.0 110.0C386.6 107.2 388.6 104.2 390.0 102.0C391.4 99.8 392.9 97.8 393.5 97.0" fill="none" stroke="#fff" stroke-width="6.17" stroke-linecap="round" stroke-linejoin="round" opacity="0.201"/>
<path d="M380.5 119.0C381.2 117.5 383.4 112.8 385.0 110.0C386.6 107.2 388.6 104.2 390.0 102.0C391.4 99.8 392.9 97.8 393.5 97.0" fill="none" stroke="#fff" stroke-width="3.58" stroke-linecap="round" stroke-linejoin="round" opacity="0.140"/>
<ellipse cx="387.5" cy="107" rx="5" ry="10" fill="url(#pw)" opacity="0.25" transform="rotate(30 387.5 107)"/>
<ellipse cx="386.4" cy="108" rx="3.52" ry="5.6" fill="url(#gw)" opacity="0.25" transform="rotate(30 386.4 108)"/>
<ellipse cx="392" cy="99.5" rx="4.16" ry="5.408" fill="url(#gw)" opacity="0.392" transform="rotate(30 392 99.5)"/>
<ellipse cx="331" cy="131" rx="20.8" ry="5.2" fill="url(#gw)" opacity="0.4256"/>
<ellipse cx="393.3" cy="128" rx="6.24" ry="5.2" fill="url(#gw)" opacity="0.4704"/>
<ellipse cx="401.5" cy="129.5" rx="6.24" ry="4.784" fill="url(#gw)" opacity="0.4704"/>
<ellipse cx="417.9" cy="122.5" rx="4.576" ry="9.36" fill="url(#gw)" opacity="0.4704"/>
<ellipse cx="326" cy="90" rx="6.24" ry="6.24" fill="url(#gw)" opacity="0.392"/>
<ellipse cx="327" cy="62" rx="4.8" ry="12.8" fill="url(#gw)" opacity="0.3"/>
</g></g>
<path d="M318.9 99.3C320.1 97.4 323.6 91.4 325.9 87.9C328.2 84.4 330.6 81.2 332.9 78.3C335.3 75.4 337.6 72.9 339.9 70.5C342.3 68.1 344.6 66.0 346.9 64.1C349.3 62.2 351.6 60.5 353.9 59.0C356.3 57.4 358.6 56.1 361.0 54.9C363.3 53.7 365.6 52.7 368.0 51.8C370.3 50.8 372.6 50.0 375.0 49.3C377.3 48.6 379.6 47.9 382.0 47.3C384.3 46.7 386.7 46.2 389.0 45.6C391.3 45.1 394.8 44.3 396.0 44.0" fill="none" stroke="#111" stroke-width="1.45" stroke-dasharray="3.7 1.7" clip-path="url(#clipc)"/>
<path d="M338.6 132.9C339.9 130.4 343.7 122.3 346.2 117.6C348.7 112.8 351.2 108.5 353.8 104.4C356.3 100.4 358.8 96.7 361.3 93.2C363.9 89.7 366.4 86.6 368.9 83.6C371.5 80.6 374.0 77.9 376.5 75.3C379.0 72.8 381.6 70.4 384.1 68.2C386.6 65.9 389.1 63.8 391.7 61.8C394.2 59.7 396.7 57.8 399.3 55.9C401.8 54.0 404.3 52.2 406.8 50.3C409.4 48.4 411.9 46.6 414.4 44.6C416.9 42.7 420.7 39.6 422.0 38.6" fill="none" stroke="#111" stroke-width="1.45" stroke-dasharray="3.7 1.7" clip-path="url(#clipc)"/>
<rect x="319.25" y="21.25" width="110.25" height="113.25" fill="none" stroke="#555" stroke-width="0.55"/>
<path d="M319.25 20.17v1.8M322.06 20.71v0.9M324.87 20.71v0.9M327.68 20.71v0.9M330.49 20.71v0.9M333.30 20.71v0.9M336.11 20.71v0.9M338.92 20.71v0.9M341.73 20.71v0.9M344.54 20.71v0.9M347.35 20.17v1.8M350.16 20.71v0.9M352.97 20.71v0.9M355.78 20.71v0.9M358.59 20.71v0.9M361.40 20.71v0.9M364.21 20.71v0.9M367.02 20.71v0.9M369.83 20.71v0.9M372.64 20.71v0.9M375.45 20.17v1.8M378.26 20.71v0.9M381.07 20.71v0.9M383.88 20.71v0.9M386.69 20.71v0.9M389.50 20.71v0.9M392.31 20.71v0.9M395.12 20.71v0.9M397.93 20.71v0.9M400.74 20.71v0.9M403.55 20.17v1.8M406.36 20.71v0.9M409.17 20.71v0.9M411.98 20.71v0.9M414.79 20.71v0.9M417.60 20.71v0.9M420.41 20.71v0.9M423.22 20.71v0.9M426.03 20.71v0.9M428.84 20.71v0.9M318.17 21.25h1.8M318.71 24.45h0.9M318.71 27.65h0.9M318.71 30.85h0.9M318.71 34.05h0.9M318.71 37.25h0.9M318.71 40.45h0.9M318.71 43.65h0.9M318.71 46.85h0.9M318.71 50.05h0.9M318.17 53.25h1.8M318.71 56.45h0.9M318.71 59.65h0.9M318.71 62.85h0.9M318.71 66.05h0.9M318.71 69.25h0.9M318.71 72.45h0.9M318.71 75.65h0.9M318.71 78.85h0.9M318.71 82.05h0.9M318.17 85.25h1.8M318.71 88.45h0.9M318.71 91.65h0.9M318.71 94.85h0.9M318.71 98.05h0.9M318.71 101.25h0.9M318.71 104.45h0.9M318.71 107.65h0.9M318.71 110.85h0.9M318.71 114.05h0.9M318.17 117.25h1.8M318.71 120.45h0.9M318.71 123.65h0.9M318.71 126.85h0.9M318.71 130.05h0.9M318.71 133.25h0.9" stroke="#333" stroke-width="0.45" fill="none"/>
<text x="319.25" y="16.95" text-anchor="middle" font-size="5.9">0</text>
<text x="347.35" y="16.95" text-anchor="middle" font-size="5.9">1</text>
<text x="375.45" y="16.95" text-anchor="middle" font-size="5.9">2</text>
<text x="403.55" y="16.95" text-anchor="middle" font-size="5.9">3</text>
<text x="315.95" y="23.35" text-anchor="end" font-size="5.9">0</text>
<text x="315.95" y="55.35" text-anchor="end" font-size="5.9">1</text>
<text x="315.95" y="87.35" text-anchor="end" font-size="5.9">2</text>
<text x="315.95" y="119.35" text-anchor="end" font-size="5.9">3</text>
<text x="374.38" y="8.45" text-anchor="middle">Horizontal Position (km)</text>
<text transform="translate(307.05 76.88) rotate(-90)" text-anchor="middle">Depth Below Datum (km)</text>
<rect x="317.68" y="137.10" width="113.40" height="3.00" fill="url(#cb)" stroke="#555" stroke-width="0.3"/>
<text x="317.68" y="146.40" text-anchor="middle" font-size="5.9">-0.1</text>
<text x="346.03" y="146.40" text-anchor="middle" font-size="5.9">-0.05</text>
<text x="374.38" y="146.40" text-anchor="middle" font-size="5.9">0</text>
<text x="402.73" y="146.40" text-anchor="middle" font-size="5.9">0.05</text>
<text x="431.08" y="146.40" text-anchor="middle" font-size="5.9">0.1</text>
<text x="374.38" y="152.60" text-anchor="middle">Thomsen Parameter <tspan font-style="italic">δ</tspan></text>
<text class="cap" x="367.00" y="169.80" text-anchor="middle">(<tspan>c</tspan>)</text>
<clipPath id="clipd"><polygon points="22.5,231.4 100.0,231.4 131.0,230.4 151.5,229.0 172.5,227.5 172.5,321.2 22.5,321.2"/></clipPath>
<g clip-path="url(#clipd)"><g filter="url(#cmd)">
<rect x="17.5" y="203.8" width="160.0" height="122.5" fill="rgb(122,122,122)"/>
<ellipse cx="42" cy="258" rx="32" ry="35.2" fill="url(#gk)" opacity="0.25"/>
<ellipse cx="60" cy="308" rx="22.4" ry="16" fill="url(#gk)" opacity="0.25"/>
<ellipse cx="110" cy="262" rx="19.2" ry="28.8" fill="url(#gk)" opacity="0.28" transform="rotate(40 110 262)"/>
<ellipse cx="100" cy="305" rx="19.2" ry="22.4" fill="url(#gk)" opacity="0.25"/>
<ellipse cx="160" cy="238" rx="16" ry="11.2" fill="url(#gk)" opacity="0.25"/>
<ellipse cx="135" cy="268" rx="12.8" ry="12.8" fill="url(#gk)" opacity="0.2"/>
<ellipse cx="122" cy="314" rx="19.2" ry="9.6" fill="url(#gk)" opacity="0.2"/>
<ellipse cx="150" cy="295" rx="35.2" ry="28.8" fill="url(#gw)" opacity="0.3"/>
<ellipse cx="161" cy="262" rx="11.2" ry="25.6" fill="url(#gw)" opacity="0.25"/>
<ellipse cx="75" cy="300" rx="12.8" ry="19.2" fill="url(#gw)" opacity="0.25"/>
<ellipse cx="90" cy="250" rx="16" ry="9.6" fill="url(#gw)" opacity="0.2" transform="rotate(-35 90 250)"/>
<ellipse cx="45" cy="240" rx="8" ry="11.2" fill="url(#gw)" opacity="0.25"/>
<ellipse cx="23" cy="236.5" rx="3.5" ry="3.5" fill="url(#pk)" opacity="1"/>
<ellipse cx="65.1" cy="245.3" rx="3.84" ry="3.52" fill="url(#gk)" opacity="0.6"/>
<ellipse cx="73.3" cy="241.2" rx="3.84" ry="3.52" fill="url(#gk)" opacity="0.6"/>
<ellipse cx="80.5" cy="239.6" rx="3.84" ry="3.52" fill="url(#gk)" opacity="0.6"/>
<ellipse cx="104" cy="235.5" rx="3.84" ry="3.52" fill="url(#gk)" opacity="0.55"/>
<ellipse cx="99.4" cy="271.4" rx="4.16" ry="3.52" fill="url(#gk)" opacity="0.6"/>
<ellipse cx="108.3" cy="288.8" rx="4.16" ry="6.4" fill="url(#gk)" opacity="0.5"/>
<ellipse cx="144.3" cy="240.6" rx="4.48" ry="6.4" fill="url(#gk)" opacity="0.5"/>
<ellipse cx="129" cy="305.2" rx="3.52" ry="3.2" fill="url(#gk)" opacity="0.5"/>
<ellipse cx="143.3" cy="308.3" rx="3.52" ry="3.2" fill="url(#gk)" opacity="0.5"/>
<ellipse cx="137.2" cy="320.6" rx="3.52" ry="3.2" fill="url(#gk)" opacity="0.5"/>
<path d="M28.0 314.0C30.8 311.8 39.7 305.3 45.0 301.0C50.3 296.7 54.2 292.8 60.0 288.0C65.8 283.2 76.7 274.7 80.0 272.0" fill="none" stroke="#fff" stroke-width="25.30" stroke-linecap="round" stroke-linejoin="round" opacity="0.020"/>
<path d="M28.0 314.0C30.8 311.8 39.7 305.3 45.0 301.0C50.3 296.7 54.2 292.8 60.0 288.0C65.8 283.2 76.7 274.7 80.0 272.0" fill="none" stroke="#fff" stroke-width="19.25" stroke-linecap="round" stroke-linejoin="round" opacity="0.037"/>
<path d="M28.0 314.0C30.8 311.8 39.7 305.3 45.0 301.0C50.3 296.7 54.2 292.8 60.0 288.0C65.8 283.2 76.7 274.7 80.0 272.0" fill="none" stroke="#fff" stroke-width="14.30" stroke-linecap="round" stroke-linejoin="round" opacity="0.064"/>
<path d="M28.0 314.0C30.8 311.8 39.7 305.3 45.0 301.0C50.3 296.7 54.2 292.8 60.0 288.0C65.8 283.2 76.7 274.7 80.0 272.0" fill="none" stroke="#fff" stroke-width="10.45" stroke-linecap="round" stroke-linejoin="round" opacity="0.061"/>
<path d="M28.0 314.0C30.8 311.8 39.7 305.3 45.0 301.0C50.3 296.7 54.2 292.8 60.0 288.0C65.8 283.2 76.7 274.7 80.0 272.0" fill="none" stroke="#fff" stroke-width="6.05" stroke-linecap="round" stroke-linejoin="round" opacity="0.036"/>
<path d="M31.0 312.0C33.3 310.2 40.2 305.0 45.0 301.0C49.8 297.0 54.8 292.3 60.0 288.0C65.2 283.7 73.3 277.2 76.0 275.0" fill="none" stroke="#fff" stroke-width="13.80" stroke-linecap="round" stroke-linejoin="round" opacity="0.040"/>
<path d="M31.0 312.0C33.3 310.2 40.2 305.0 45.0 301.0C49.8 297.0 54.8 292.3 60.0 288.0C65.2 283.7 73.3 277.2 76.0 275.0" fill="none" stroke="#fff" stroke-width="10.50" stroke-linecap="round" stroke-linejoin="round" opacity="0.075"/>
<path d="M31.0 312.0C33.3 310.2 40.2 305.0 45.0 301.0C49.8 297.0 54.8 292.3 60.0 288.0C65.2 283.7 73.3 277.2 76.0 275.0" fill="none" stroke="#fff" stroke-width="7.80" stroke-linecap="round" stroke-linejoin="round" opacity="0.135"/>
<path d="M31.0 312.0C33.3 310.2 40.2 305.0 45.0 301.0C49.8 297.0 54.8 292.3 60.0 288.0C65.2 283.7 73.3 277.2 76.0 275.0" fill="none" stroke="#fff" stroke-width="5.70" stroke-linecap="round" stroke-linejoin="round" opacity="0.141"/>
<path d="M31.0 312.0C33.3 310.2 40.2 305.0 45.0 301.0C49.8 297.0 54.8 292.3 60.0 288.0C65.2 283.7 73.3 277.2 76.0 275.0" fill="none" stroke="#fff" stroke-width="3.30" stroke-linecap="round" stroke-linejoin="round" opacity="0.091"/>
<path d="M84.0 269.0C85.5 267.8 90.0 264.3 93.0 262.0C96.0 259.7 100.5 256.2 102.0 255.0" fill="none" stroke="#fff" stroke-width="10.35" stroke-linecap="round" stroke-linejoin="round" opacity="0.030"/>
<path d="M84.0 269.0C85.5 267.8 90.0 264.3 93.0 262.0C96.0 259.7 100.5 256.2 102.0 255.0" fill="none" stroke="#fff" stroke-width="7.88" stroke-linecap="round" stroke-linejoin="round" opacity="0.056"/>
<path d="M84.0 269.0C85.5 267.8 90.0 264.3 93.0 262.0C96.0 259.7 100.5 256.2 102.0 255.0" fill="none" stroke="#fff" stroke-width="5.85" stroke-linecap="round" stroke-linejoin="round" opacity="0.098"/>
<path d="M84.0 269.0C85.5 267.8 90.0 264.3 93.0 262.0C96.0 259.7 100.5 256.2 102.0 255.0" fill="none" stroke="#fff" stroke-width="4.27" stroke-linecap="round" stroke-linejoin="round" opacity="0.098"/>
<path d="M84.0 269.0C85.5 267.8 90.0 264.3 93.0 262.0C96.0 259.7 100.5 256.2 102.0 255.0" fill="none" stroke="#fff" stroke-width="2.48" stroke-linecap="round" stroke-linejoin="round" opacity="0.060"/>
<ellipse cx="50.8" cy="296" rx="4.8" ry="3.2" fill="url(#gw)" opacity="0.3" transform="rotate(-38 50.8 296)"/>
<ellipse cx="68.2" cy="280.6" rx="6.4" ry="3.2" fill="url(#gw)" opacity="0.22" transform="rotate(-38 68.2 280.6)"/>
<ellipse cx="99" cy="258" rx="6.24" ry="4.992" fill="url(#gw)" opacity="0.504" transform="rotate(-38 99 258)"/>
<ellipse cx="89.7" cy="242.7" rx="7.28" ry="9.36" fill="url(#gw)" opacity="0.56"/>
<ellipse cx="67.2" cy="308.3" rx="5.408" ry="11.44" fill="url(#gw)" opacity="0.504"/>
<ellipse cx="73.3" cy="295" rx="4.8" ry="4.8" fill="url(#gw)" opacity="0.3"/>
<ellipse cx="92" cy="243.7" rx="5.2" ry="5.2" fill="url(#gw)" opacity="0.448"/>
<ellipse cx="116" cy="233" rx="6.24" ry="3.744" fill="url(#gw)" opacity="0.448"/>
<ellipse cx="141.3" cy="231" rx="7.28" ry="4.16" fill="url(#gw)" opacity="0.616"/>
<ellipse cx="156" cy="229.6" rx="10.4" ry="4.16" fill="url(#gw)" opacity="0.6944"/>
<ellipse cx="128" cy="292.5" rx="8.32" ry="8.32" fill="url(#gw)" opacity="0.56"/>
<ellipse cx="149" cy="284.7" rx="5.408" ry="9.568" fill="url(#gw)" opacity="0.56"/>
<ellipse cx="138.2" cy="298" rx="5.408" ry="7.28" fill="url(#gw)" opacity="0.504"/>
<ellipse cx="154.6" cy="303.2" rx="6.656" ry="7.072" fill="url(#gw)" opacity="0.56"/>
<ellipse cx="150.5" cy="311.4" rx="5.824" ry="5.824" fill="url(#gw)" opacity="0.672"/>
<ellipse cx="170" cy="300" rx="5.408" ry="11.44" fill="url(#gw)" opacity="0.616"/>
<ellipse cx="134" cy="282.7" rx="4.8" ry="4.8" fill="url(#gw)" opacity="0.3"/>
<ellipse cx="156.6" cy="259" rx="4" ry="4.8" fill="url(#gw)" opacity="0.3"/>
</g></g>
<path d="M22.5 301.4C24.5 300.2 30.4 296.7 34.3 294.2C38.3 291.7 42.2 289.0 46.2 286.3C50.1 283.5 54.1 280.7 58.0 277.8C62.0 275.0 65.9 272.1 69.8 269.3C73.8 266.4 77.7 263.5 81.7 260.8C85.6 258.0 89.6 255.3 93.5 252.7C97.5 250.2 101.4 247.7 105.4 245.4C109.3 243.2 113.2 241.0 117.2 239.1C121.1 237.2 125.1 235.5 129.0 234.1C133.0 232.7 136.9 231.6 140.9 230.8C144.8 230.0 150.7 229.6 152.7 229.3" fill="none" stroke="#111" stroke-width="1.45" stroke-dasharray="3.7 1.7" clip-path="url(#clipd)"/>
<path d="M78.9 321.1C80.2 318.9 84.2 312.2 86.9 308.1C89.5 304.0 92.2 300.0 94.8 296.3C97.5 292.6 100.1 289.0 102.8 285.6C105.4 282.3 108.1 279.1 110.8 276.0C113.4 273.0 116.1 270.1 118.7 267.4C121.4 264.6 124.0 262.0 126.7 259.5C129.3 257.0 132.0 254.7 134.6 252.4C137.3 250.1 140.0 248.0 142.6 245.9C145.3 243.9 147.9 241.9 150.6 240.0C153.2 238.1 155.9 236.3 158.5 234.5C161.2 232.7 165.2 230.2 166.5 229.4" fill="none" stroke="#111" stroke-width="1.45" stroke-dasharray="3.7 1.7" clip-path="url(#clipd)"/>
<rect x="22.50" y="208.75" width="150.00" height="112.50" fill="none" stroke="#555" stroke-width="0.55"/>
<path d="M22.50 207.67v1.8M25.31 208.21v0.9M28.12 208.21v0.9M30.93 208.21v0.9M33.74 208.21v0.9M36.55 208.21v0.9M39.36 208.21v0.9M42.17 208.21v0.9M44.98 208.21v0.9M47.79 208.21v0.9M50.60 207.67v1.8M53.41 208.21v0.9M56.22 208.21v0.9M59.03 208.21v0.9M61.84 208.21v0.9M64.65 208.21v0.9M67.46 208.21v0.9M70.27 208.21v0.9M73.08 208.21v0.9M75.89 208.21v0.9M78.70 207.67v1.8M81.51 208.21v0.9M84.32 208.21v0.9M87.13 208.21v0.9M89.94 208.21v0.9M92.75 208.21v0.9M95.56 208.21v0.9M98.37 208.21v0.9M101.18 208.21v0.9M103.99 208.21v0.9M106.80 207.67v1.8M109.61 208.21v0.9M112.42 208.21v0.9M115.23 208.21v0.9M118.04 208.21v0.9M120.85 208.21v0.9M123.66 208.21v0.9M126.47 208.21v0.9M129.28 208.21v0.9M132.09 208.21v0.9M134.90 207.67v1.8M137.71 208.21v0.9M140.52 208.21v0.9M143.33 208.21v0.9M146.14 208.21v0.9M148.95 208.21v0.9M151.76 208.21v0.9M154.57 208.21v0.9M157.38 208.21v0.9M160.19 208.21v0.9M163.00 207.67v1.8M165.81 208.21v0.9M168.62 208.21v0.9M171.43 208.21v0.9M21.42 208.75h1.8M21.96 211.95h0.9M21.96 215.15h0.9M21.96 218.35h0.9M21.96 221.55h0.9M21.96 224.75h0.9M21.96 227.95h0.9M21.96 231.15h0.9M21.96 234.35h0.9M21.96 237.55h0.9M21.42 240.75h1.8M21.96 243.95h0.9M21.96 247.15h0.9M21.96 250.35h0.9M21.96 253.55h0.9M21.96 256.75h0.9M21.96 259.95h0.9M21.96 263.15h0.9M21.96 266.35h0.9M21.96 269.55h0.9M21.42 272.75h1.8M21.96 275.95h0.9M21.96 279.15h0.9M21.96 282.35h0.9M21.96 285.55h0.9M21.96 288.75h0.9M21.96 291.95h0.9M21.96 295.15h0.9M21.96 298.35h0.9M21.96 301.55h0.9M21.42 304.75h1.8M21.96 307.95h0.9M21.96 311.15h0.9M21.96 314.35h0.9M21.96 317.55h0.9M21.96 320.75h0.9" stroke="#333" stroke-width="0.45" fill="none"/>
<text x="22.50" y="204.45" text-anchor="middle" font-size="5.9">0</text>
<text x="50.60" y="204.45" text-anchor="middle" font-size="5.9">1</text>
<text x="78.70" y="204.45" text-anchor="middle" font-size="5.9">2</text>
<text x="106.80" y="204.45" text-anchor="middle" font-size="5.9">3</text>
<text x="134.90" y="204.45" text-anchor="middle" font-size="5.9">4</text>
<text x="163.00" y="204.45" text-anchor="middle" font-size="5.9">5</text>
<text x="19.20" y="210.85" text-anchor="end" font-size="5.9">0</text>
<text x="19.20" y="242.85" text-anchor="end" font-size="5.9">1</text>
<text x="19.20" y="274.85" text-anchor="end" font-size="5.9">2</text>
<text x="19.20" y="306.85" text-anchor="end" font-size="5.9">3</text>
<text x="97.50" y="195.95" text-anchor="middle">Horizontal Position (km)</text>
<text transform="translate(10.30 264.00) rotate(-90)" text-anchor="middle">Depth Below Datum (km)</text>
<rect x="40.80" y="323.85" width="113.40" height="3.00" fill="url(#cb)" stroke="#555" stroke-width="0.3"/>
<text x="40.80" y="333.15" text-anchor="middle" font-size="5.9">-0.1</text>
<text x="69.15" y="333.15" text-anchor="middle" font-size="5.9">-0.05</text>
<text x="97.50" y="333.15" text-anchor="middle" font-size="5.9">0</text>
<text x="125.85" y="333.15" text-anchor="middle" font-size="5.9">0.05</text>
<text x="154.20" y="333.15" text-anchor="middle" font-size="5.9">0.1</text>
<text x="97.50" y="339.35" text-anchor="middle">Thomsen Parameter <tspan font-style="italic">δ</tspan></text>
<text class="cap" x="87.90" y="358.40" text-anchor="middle">(<tspan>d</tspan>)</text>
<clipPath id="clipe"><polygon points="203.2,231.6 312.0,231.3 325.0,228.8 337.7,225.5 353.2,222.5 353.2,321.2 203.2,321.2"/></clipPath>
<g clip-path="url(#clipe)"><g filter="url(#cme)">
<rect x="198.2" y="203.8" width="160.0" height="122.5" fill="rgb(116,116,116)"/>
<ellipse cx="225" cy="262" rx="35.2" ry="32" fill="url(#gk)" opacity="0.25"/>
<ellipse cx="262" cy="295" rx="25.6" ry="28.8" fill="url(#gk)" opacity="0.25"/>
<ellipse cx="300" cy="285" rx="16" ry="22.4" fill="url(#gk)" opacity="0.22"/>
<ellipse cx="340" cy="275" rx="16" ry="48" fill="url(#gk)" opacity="0.25"/>
<ellipse cx="290" cy="236" rx="22.4" ry="6.4" fill="url(#gk)" opacity="0.2"/>
<ellipse cx="300" cy="256" rx="19.2" ry="8" fill="url(#gk)" opacity="0.25" transform="rotate(-30 300 256)"/>
<ellipse cx="245" cy="312" rx="12.8" ry="11.2" fill="url(#gk)" opacity="0.2"/>
<ellipse cx="215" cy="262" rx="11.2" ry="22.4" fill="url(#gw)" opacity="0.15"/>
<ellipse cx="327.5" cy="270" rx="8" ry="28.8" fill="url(#gw)" opacity="0.25"/>
<ellipse cx="292" cy="266" rx="12.8" ry="8" fill="url(#gw)" opacity="0.22" transform="rotate(-30 292 266)"/>
<ellipse cx="225" cy="241" rx="8" ry="6.4" fill="url(#gw)" opacity="0.2"/>
<ellipse cx="345" cy="300" rx="9.6" ry="16" fill="url(#gw)" opacity="0.18"/>
<ellipse cx="270" cy="265" rx="19.2" ry="6.4" fill="url(#gw)" opacity="0.25" transform="rotate(-35 270 265)"/>
<ellipse cx="205" cy="236.3" rx="4.4" ry="5.6" fill="url(#pk)" opacity="0.92"/>
<ellipse cx="217.5" cy="235.5" rx="4" ry="3.2" fill="url(#gk)" opacity="0.35"/>
<ellipse cx="260" cy="237" rx="4" ry="3.2" fill="url(#gk)" opacity="0.35"/>
<ellipse cx="332.7" cy="234.5" rx="4.16" ry="4.16" fill="url(#gk)" opacity="0.9"/>
<ellipse cx="348.2" cy="227" rx="3.2" ry="3.2" fill="url(#gk)" opacity="0.7"/>
<ellipse cx="316.6" cy="300" rx="11.5" ry="5.6" fill="url(#pk)" opacity="0.9" transform="rotate(-40 316.6 300)"/>
<ellipse cx="310.2" cy="279" rx="3.52" ry="3.52" fill="url(#gk)" opacity="0.55"/>
<ellipse cx="282.6" cy="303.5" rx="5.6" ry="4.16" fill="url(#gk)" opacity="0.7"/>
<ellipse cx="292.9" cy="296" rx="4.48" ry="3.52" fill="url(#gk)" opacity="0.55"/>
<ellipse cx="278.8" cy="309" rx="3.2" ry="3.2" fill="url(#gk)" opacity="0.5"/>
<ellipse cx="286.5" cy="265" rx="4" ry="4" fill="url(#gk)" opacity="0.4"/>
<ellipse cx="300.3" cy="283.9" rx="4" ry="4" fill="url(#gk)" opacity="0.4"/>
<ellipse cx="325.2" cy="311.5" rx="3.52" ry="3.52" fill="url(#gk)" opacity="0.5"/>
<path d="M220.0 303.0C221.2 301.9 224.5 298.8 227.0 296.5C229.5 294.2 232.0 291.8 235.0 289.0C238.0 286.2 243.3 281.5 245.0 280.0" fill="none" stroke="#fff" stroke-width="16.10" stroke-linecap="round" stroke-linejoin="round" opacity="0.036"/>
<path d="M220.0 303.0C221.2 301.9 224.5 298.8 227.0 296.5C229.5 294.2 232.0 291.8 235.0 289.0C238.0 286.2 243.3 281.5 245.0 280.0" fill="none" stroke="#fff" stroke-width="12.25" stroke-linecap="round" stroke-linejoin="round" opacity="0.067"/>
<path d="M220.0 303.0C221.2 301.9 224.5 298.8 227.0 296.5C229.5 294.2 232.0 291.8 235.0 289.0C238.0 286.2 243.3 281.5 245.0 280.0" fill="none" stroke="#fff" stroke-width="9.10" stroke-linecap="round" stroke-linejoin="round" opacity="0.120"/>
<path d="M220.0 303.0C221.2 301.9 224.5 298.8 227.0 296.5C229.5 294.2 232.0 291.8 235.0 289.0C238.0 286.2 243.3 281.5 245.0 280.0" fill="none" stroke="#fff" stroke-width="6.65" stroke-linecap="round" stroke-linejoin="round" opacity="0.123"/>
<path d="M220.0 303.0C221.2 301.9 224.5 298.8 227.0 296.5C229.5 294.2 232.0 291.8 235.0 289.0C238.0 286.2 243.3 281.5 245.0 280.0" fill="none" stroke="#fff" stroke-width="3.85" stroke-linecap="round" stroke-linejoin="round" opacity="0.078"/>
<ellipse cx="231" cy="294" rx="10" ry="7.5" fill="url(#pw)" opacity="0.3" transform="rotate(-40 231 294)"/>
<ellipse cx="226" cy="306" rx="14.4" ry="11.2" fill="url(#gw)" opacity="0.25"/>
<ellipse cx="233.8" cy="290.5" rx="7.488" ry="4.992" fill="url(#gw)" opacity="0.4704" transform="rotate(-40 233.8 290.5)"/>
<ellipse cx="217.5" cy="311.5" rx="5.408" ry="9.36" fill="url(#gw)" opacity="0.504"/>
<ellipse cx="225" cy="304.5" rx="9.36" ry="4.576" fill="url(#gw)" opacity="0.448"/>
<ellipse cx="232.6" cy="310.5" rx="4.576" ry="8.32" fill="url(#gw)" opacity="0.504"/>
<path d="M252.0 269.0C254.2 267.8 260.8 264.2 265.0 262.0C269.2 259.8 275.0 257.0 277.0 256.0" fill="none" stroke="#fff" stroke-width="9.20" stroke-linecap="round" stroke-linejoin="round" opacity="0.030"/>
<path d="M252.0 269.0C254.2 267.8 260.8 264.2 265.0 262.0C269.2 259.8 275.0 257.0 277.0 256.0" fill="none" stroke="#fff" stroke-width="7.00" stroke-linecap="round" stroke-linejoin="round" opacity="0.056"/>
<path d="M252.0 269.0C254.2 267.8 260.8 264.2 265.0 262.0C269.2 259.8 275.0 257.0 277.0 256.0" fill="none" stroke="#fff" stroke-width="5.20" stroke-linecap="round" stroke-linejoin="round" opacity="0.098"/>
<path d="M252.0 269.0C254.2 267.8 260.8 264.2 265.0 262.0C269.2 259.8 275.0 257.0 277.0 256.0" fill="none" stroke="#fff" stroke-width="3.80" stroke-linecap="round" stroke-linejoin="round" opacity="0.098"/>
<path d="M252.0 269.0C254.2 267.8 260.8 264.2 265.0 262.0C269.2 259.8 275.0 257.0 277.0 256.0" fill="none" stroke="#fff" stroke-width="2.20" stroke-linecap="round" stroke-linejoin="round" opacity="0.060"/>
<path d="M277.0 256.0C278.8 255.2 284.2 252.8 288.0 251.0C291.8 249.2 296.2 247.3 300.0 245.5C303.8 243.7 309.2 240.9 311.0 240.0" fill="none" stroke="#fff" stroke-width="11.50" stroke-linecap="round" stroke-linejoin="round" opacity="0.042"/>
<path d="M277.0 256.0C278.8 255.2 284.2 252.8 288.0 251.0C291.8 249.2 296.2 247.3 300.0 245.5C303.8 243.7 309.2 240.9 311.0 240.0" fill="none" stroke="#fff" stroke-width="8.75" stroke-linecap="round" stroke-linejoin="round" opacity="0.079"/>
<path d="M277.0 256.0C278.8 255.2 284.2 252.8 288.0 251.0C291.8 249.2 296.2 247.3 300.0 245.5C303.8 243.7 309.2 240.9 311.0 240.0" fill="none" stroke="#fff" stroke-width="6.50" stroke-linecap="round" stroke-linejoin="round" opacity="0.143"/>
<path d="M277.0 256.0C278.8 255.2 284.2 252.8 288.0 251.0C291.8 249.2 296.2 247.3 300.0 245.5C303.8 243.7 309.2 240.9 311.0 240.0" fill="none" stroke="#fff" stroke-width="4.75" stroke-linecap="round" stroke-linejoin="round" opacity="0.150"/>
<path d="M277.0 256.0C278.8 255.2 284.2 252.8 288.0 251.0C291.8 249.2 296.2 247.3 300.0 245.5C303.8 243.7 309.2 240.9 311.0 240.0" fill="none" stroke="#fff" stroke-width="2.75" stroke-linecap="round" stroke-linejoin="round" opacity="0.098"/>
<ellipse cx="304.5" cy="243.5" rx="9.6" ry="3.52" fill="url(#gw)" opacity="0.25" transform="rotate(-24 304.5 243.5)"/>
<ellipse cx="267.5" cy="244.5" rx="5.2" ry="12.48" fill="url(#gw)" opacity="0.448" transform="rotate(10 267.5 244.5)"/>
<ellipse cx="244.6" cy="241.3" rx="4" ry="4" fill="url(#gw)" opacity="0.3"/>
<ellipse cx="346.5" cy="245" rx="3.744" ry="10.4" fill="url(#gw)" opacity="0.504"/>
<path d="M303.0 305.0C303.8 303.7 305.8 299.7 308.0 297.0C310.2 294.3 313.7 291.9 316.0 289.0C318.3 286.1 321.0 281.1 322.0 279.5" fill="none" stroke="#fff" stroke-width="9.66" stroke-linecap="round" stroke-linejoin="round" opacity="0.048"/>
<path d="M303.0 305.0C303.8 303.7 305.8 299.7 308.0 297.0C310.2 294.3 313.7 291.9 316.0 289.0C318.3 286.1 321.0 281.1 322.0 279.5" fill="none" stroke="#fff" stroke-width="7.35" stroke-linecap="round" stroke-linejoin="round" opacity="0.091"/>
<path d="M303.0 305.0C303.8 303.7 305.8 299.7 308.0 297.0C310.2 294.3 313.7 291.9 316.0 289.0C318.3 286.1 321.0 281.1 322.0 279.5" fill="none" stroke="#fff" stroke-width="5.46" stroke-linecap="round" stroke-linejoin="round" opacity="0.166"/>
<path d="M303.0 305.0C303.8 303.7 305.8 299.7 308.0 297.0C310.2 294.3 313.7 291.9 316.0 289.0C318.3 286.1 321.0 281.1 322.0 279.5" fill="none" stroke="#fff" stroke-width="3.99" stroke-linecap="round" stroke-linejoin="round" opacity="0.180"/>
<path d="M303.0 305.0C303.8 303.7 305.8 299.7 308.0 297.0C310.2 294.3 313.7 291.9 316.0 289.0C318.3 286.1 321.0 281.1 322.0 279.5" fill="none" stroke="#fff" stroke-width="2.31" stroke-linecap="round" stroke-linejoin="round" opacity="0.122"/>
<ellipse cx="307.6" cy="296.5" rx="4.576" ry="4.576" fill="url(#gw)" opacity="0.392"/>
<ellipse cx="316.4" cy="289" rx="4.576" ry="4.576" fill="url(#gw)" opacity="0.392"/>
<ellipse cx="321.4" cy="279.7" rx="4.576" ry="4.992" fill="url(#gw)" opacity="0.392"/>
<ellipse cx="330.7" cy="297.2" rx="4.992" ry="5.824" fill="url(#gw)" opacity="0.56"/>
<ellipse cx="303.9" cy="305.2" rx="6.24" ry="5.2" fill="url(#gw)" opacity="0.448"/>
<ellipse cx="251" cy="275" rx="5.2" ry="5.2" fill="url(#gw)" opacity="0.392"/>
</g></g>
<path d="M203.5 299.7C205.3 298.3 210.9 294.1 214.6 291.3C218.3 288.6 221.9 285.9 225.6 283.2C229.3 280.6 233.0 278.0 236.7 275.5C240.4 272.9 244.1 270.5 247.8 268.1C251.4 265.7 255.1 263.4 258.8 261.1C262.5 258.9 266.2 256.7 269.9 254.7C273.6 252.6 277.3 250.6 280.9 248.7C284.6 246.8 288.3 245.0 292.0 243.3C295.7 241.6 299.4 239.9 303.1 238.4C306.8 236.9 310.4 235.5 314.1 234.2C317.8 232.9 323.4 231.3 325.2 230.7" fill="none" stroke="#111" stroke-width="1.45" stroke-dasharray="3.7 1.7" clip-path="url(#clipe)"/>
<path d="M253.8 320.3C255.2 318.3 259.4 312.1 262.2 308.3C265.0 304.4 267.8 300.7 270.7 297.1C273.5 293.5 276.3 290.1 279.1 286.8C281.9 283.5 284.7 280.3 287.5 277.2C290.3 274.2 293.1 271.2 295.9 268.3C298.7 265.5 301.6 262.7 304.4 260.1C307.2 257.4 310.0 254.9 312.8 252.4C315.6 249.9 318.4 247.5 321.2 245.1C324.0 242.8 326.8 240.5 329.6 238.3C332.5 236.1 335.3 233.9 338.1 231.8C340.9 229.7 345.1 226.7 346.5 225.6" fill="none" stroke="#111" stroke-width="1.45" stroke-dasharray="3.7 1.7" clip-path="url(#clipe)"/>
<rect x="203.25" y="208.75" width="150.00" height="112.50" fill="none" stroke="#555" stroke-width="0.55"/>
<path d="M203.25 207.67v1.8M206.06 208.21v0.9M208.87 208.21v0.9M211.68 208.21v0.9M214.49 208.21v0.9M217.30 208.21v0.9M220.11 208.21v0.9M222.92 208.21v0.9M225.73 208.21v0.9M228.54 208.21v0.9M231.35 207.67v1.8M234.16 208.21v0.9M236.97 208.21v0.9M239.78 208.21v0.9M242.59 208.21v0.9M245.40 208.21v0.9M248.21 208.21v0.9M251.02 208.21v0.9M253.83 208.21v0.9M256.64 208.21v0.9M259.45 207.67v1.8M262.26 208.21v0.9M265.07 208.21v0.9M267.88 208.21v0.9M270.69 208.21v0.9M273.50 208.21v0.9M276.31 208.21v0.9M279.12 208.21v0.9M281.93 208.21v0.9M284.74 208.21v0.9M287.55 207.67v1.8M290.36 208.21v0.9M293.17 208.21v0.9M295.98 208.21v0.9M298.79 208.21v0.9M301.60 208.21v0.9M304.41 208.21v0.9M307.22 208.21v0.9M310.03 208.21v0.9M312.84 208.21v0.9M315.65 207.67v1.8M318.46 208.21v0.9M321.27 208.21v0.9M324.08 208.21v0.9M326.89 208.21v0.9M329.70 208.21v0.9M332.51 208.21v0.9M335.32 208.21v0.9M338.13 208.21v0.9M340.94 208.21v0.9M343.75 207.67v1.8M346.56 208.21v0.9M349.37 208.21v0.9M352.18 208.21v0.9M202.17 208.75h1.8M202.71 211.95h0.9M202.71 215.15h0.9M202.71 218.35h0.9M202.71 221.55h0.9M202.71 224.75h0.9M202.71 227.95h0.9M202.71 231.15h0.9M202.71 234.35h0.9M202.71 237.55h0.9M202.17 240.75h1.8M202.71 243.95h0.9M202.71 247.15h0.9M202.71 250.35h0.9M202.71 253.55h0.9M202.71 256.75h0.9M202.71 259.95h0.9M202.71 263.15h0.9M202.71 266.35h0.9M202.71 269.55h0.9M202.17 272.75h1.8M202.71 275.95h0.9M202.71 279.15h0.9M202.71 282.35h0.9M202.71 285.55h0.9M202.71 288.75h0.9M202.71 291.95h0.9M202.71 295.15h0.9M202.71 298.35h0.9M202.71 301.55h0.9M202.17 304.75h1.8M202.71 307.95h0.9M202.71 311.15h0.9M202.71 314.35h0.9M202.71 317.55h0.9M202.71 320.75h0.9" stroke="#333" stroke-width="0.45" fill="none"/>
<text x="203.25" y="204.45" text-anchor="middle" font-size="5.9">0</text>
<text x="231.35" y="204.45" text-anchor="middle" font-size="5.9">1</text>
<text x="259.45" y="204.45" text-anchor="middle" font-size="5.9">2</text>
<text x="287.55" y="204.45" text-anchor="middle" font-size="5.9">3</text>
<text x="315.65" y="204.45" text-anchor="middle" font-size="5.9">4</text>
<text x="343.75" y="204.45" text-anchor="middle" font-size="5.9">5</text>
<text x="199.95" y="210.85" text-anchor="end" font-size="5.9">0</text>
<text x="199.95" y="242.85" text-anchor="end" font-size="5.9">1</text>
<text x="199.95" y="274.85" text-anchor="end" font-size="5.9">2</text>
<text x="199.95" y="306.85" text-anchor="end" font-size="5.9">3</text>
<text x="278.25" y="195.95" text-anchor="middle">Horizontal Position (km)</text>
<text transform="translate(191.05 264.00) rotate(-90)" text-anchor="middle">Depth Below Datum (km)</text>
<rect x="221.55" y="323.85" width="113.40" height="3.00" fill="url(#cb)" stroke="#555" stroke-width="0.3"/>
<text x="221.55" y="333.15" text-anchor="middle" font-size="5.9">-0.1</text>
<text x="249.90" y="333.15" text-anchor="middle" font-size="5.9">-0.05</text>
<text x="278.25" y="333.15" text-anchor="middle" font-size="5.9">0</text>
<text x="306.60" y="333.15" text-anchor="middle" font-size="5.9">0.05</text>
<text x="334.95" y="333.15" text-anchor="middle" font-size="5.9">0.1</text>
<text x="278.25" y="339.35" text-anchor="middle">Thomsen Parameter <tspan font-style="italic">δ</tspan></text>
<text class="cap" x="268.00" y="358.40" text-anchor="middle">(<tspan>e</tspan>)</text>
<clipPath id="clipf"><polygon points="22.5,417.6 95.0,417.0 115.0,414.4 135.0,411.6 150.8,409.0 150.8,507.5 22.5,507.5"/></clipPath>
<g clip-path="url(#clipf)"><g filter="url(#cmf)">
<rect x="17.5" y="390.0" width="138.2" height="122.5" fill="rgb(122,122,122)"/>
<ellipse cx="50" cy="446" rx="35.2" ry="9.6" fill="url(#gk)" opacity="0.25" transform="rotate(-20 50 446)"/>
<ellipse cx="75" cy="485" rx="35.2" ry="32" fill="url(#gk)" opacity="0.25"/>
<ellipse cx="120" cy="430" rx="9.6" ry="12.8" fill="url(#gk)" opacity="0.2"/>
<ellipse cx="140" cy="425" rx="12.8" ry="16" fill="url(#gk)" opacity="0.25"/>
<ellipse cx="100" cy="500" rx="16" ry="9.6" fill="url(#gk)" opacity="0.2"/>
<ellipse cx="134" cy="452" rx="9.6" ry="19.2" fill="url(#gk)" opacity="0.2"/>
<ellipse cx="30" cy="458" rx="14.4" ry="16" fill="url(#gw)" opacity="0.25"/>
<ellipse cx="108" cy="462" rx="11.2" ry="9.6" fill="url(#gw)" opacity="0.28"/>
<ellipse cx="129" cy="486" rx="9.6" ry="9.6" fill="url(#gw)" opacity="0.25"/>
<ellipse cx="85" cy="484" rx="9.6" ry="12.8" fill="url(#gw)" opacity="0.2"/>
<ellipse cx="55" cy="496" rx="16" ry="9.6" fill="url(#gw)" opacity="0.22"/>
<ellipse cx="40" cy="498" rx="25.6" ry="12.8" fill="url(#gw)" opacity="0.28"/>
<ellipse cx="30" cy="423" rx="12.8" ry="8" fill="url(#gw)" opacity="0.3"/>
<ellipse cx="55" cy="428.5" rx="31" ry="13" fill="url(#pw)" opacity="0.5" transform="rotate(-8 55 428.5)"/>
<ellipse cx="29" cy="426" rx="12.8" ry="12.8" fill="url(#gw)" opacity="0.15"/>
<path d="M84.0 423.5C86.7 423.2 94.3 422.1 100.0 421.5C105.7 420.9 115.0 420.2 118.0 420.0" fill="none" stroke="#fff" stroke-width="8.69" stroke-linecap="round" stroke-linejoin="round" opacity="0.042"/>
<path d="M84.0 423.5C86.7 423.2 94.3 422.1 100.0 421.5C105.7 420.9 115.0 420.2 118.0 420.0" fill="none" stroke="#fff" stroke-width="6.62" stroke-linecap="round" stroke-linejoin="round" opacity="0.079"/>
<path d="M84.0 423.5C86.7 423.2 94.3 422.1 100.0 421.5C105.7 420.9 115.0 420.2 118.0 420.0" fill="none" stroke="#fff" stroke-width="4.91" stroke-linecap="round" stroke-linejoin="round" opacity="0.143"/>
<path d="M84.0 423.5C86.7 423.2 94.3 422.1 100.0 421.5C105.7 420.9 115.0 420.2 118.0 420.0" fill="none" stroke="#fff" stroke-width="3.59" stroke-linecap="round" stroke-linejoin="round" opacity="0.150"/>
<path d="M84.0 423.5C86.7 423.2 94.3 422.1 100.0 421.5C105.7 420.9 115.0 420.2 118.0 420.0" fill="none" stroke="#fff" stroke-width="2.08" stroke-linecap="round" stroke-linejoin="round" opacity="0.098"/>
<path d="M84.0 437.0C86.7 437.0 97.3 437.0 100.0 437.0" fill="none" stroke="#fff" stroke-width="6.28" stroke-linecap="round" stroke-linejoin="round" opacity="0.040"/>
<path d="M84.0 437.0C86.7 437.0 97.3 437.0 100.0 437.0" fill="none" stroke="#fff" stroke-width="4.78" stroke-linecap="round" stroke-linejoin="round" opacity="0.075"/>
<path d="M84.0 437.0C86.7 437.0 97.3 437.0 100.0 437.0" fill="none" stroke="#fff" stroke-width="3.55" stroke-linecap="round" stroke-linejoin="round" opacity="0.135"/>
<path d="M84.0 437.0C86.7 437.0 97.3 437.0 100.0 437.0" fill="none" stroke="#fff" stroke-width="2.59" stroke-linecap="round" stroke-linejoin="round" opacity="0.141"/>
<path d="M84.0 437.0C86.7 437.0 97.3 437.0 100.0 437.0" fill="none" stroke="#fff" stroke-width="1.50" stroke-linecap="round" stroke-linejoin="round" opacity="0.091"/>
<ellipse cx="97" cy="420.5" rx="5.9488" ry="3.432" fill="url(#gw)" opacity="0.448"/>
<ellipse cx="96" cy="441" rx="5.72" ry="5.0336" fill="url(#gw)" opacity="0.616"/>
<ellipse cx="107" cy="436" rx="5.0336" ry="5.0336" fill="url(#gw)" opacity="0.448"/>
<ellipse cx="85" cy="432" rx="5.0336" ry="5.0336" fill="url(#gw)" opacity="0.448"/>
<ellipse cx="23.6" cy="431" rx="4.576" ry="4.928" fill="url(#gk)" opacity="1"/>
<ellipse cx="81" cy="432" rx="3.168" ry="3.168" fill="url(#gk)" opacity="0.8"/>
<ellipse cx="97.2" cy="452.4" rx="4.2" ry="4.2" fill="url(#pk)" opacity="0.92"/>
<ellipse cx="88" cy="458" rx="6.16" ry="3.168" fill="url(#gk)" opacity="0.5" transform="rotate(-40 88 458)"/>
<ellipse cx="73" cy="469" rx="4.4" ry="3.52" fill="url(#gk)" opacity="0.55"/>
<ellipse cx="68" cy="448" rx="3.52" ry="3.52" fill="url(#gk)" opacity="0.45"/>
<ellipse cx="62" cy="443" rx="3.52" ry="3.52" fill="url(#gk)" opacity="0.45"/>
<ellipse cx="128" cy="425" rx="3.168" ry="4.576" fill="url(#gk)" opacity="0.5"/>
<ellipse cx="118" cy="433" rx="3.168" ry="7.04" fill="url(#gk)" opacity="0.75" transform="rotate(40 118 433)"/>
<ellipse cx="108" cy="442" rx="4.4" ry="3.168" fill="url(#gk)" opacity="0.5" transform="rotate(-40 108 442)"/>
<ellipse cx="138" cy="442" rx="3.168" ry="7.392" fill="url(#gk)" opacity="0.8" transform="rotate(-40 138 442)"/>
<ellipse cx="141" cy="458" rx="3.168" ry="7.392" fill="url(#gk)" opacity="0.95" transform="rotate(-35 141 458)"/>
<ellipse cx="139.3" cy="473" rx="4.6" ry="5.6" fill="url(#pk)" opacity="0.95" transform="rotate(-20 139.3 473)"/>
<ellipse cx="135" cy="466" rx="3.52" ry="3.52" fill="url(#gk)" opacity="0.5"/>
<ellipse cx="120" cy="477" rx="2.64" ry="2.64" fill="url(#gk)" opacity="0.8"/>
<ellipse cx="114" cy="481" rx="2.64" ry="2.64" fill="url(#gk)" opacity="0.8"/>
<ellipse cx="109" cy="488" rx="4.224" ry="3.872" fill="url(#gk)" opacity="0.95"/>
<ellipse cx="145" cy="483" rx="3.168" ry="3.168" fill="url(#gk)" opacity="0.8"/>
<ellipse cx="140" cy="490" rx="3.168" ry="6.16" fill="url(#gk)" opacity="0.95" transform="rotate(40 140 490)"/>
<ellipse cx="133" cy="499" rx="4.224" ry="3.872" fill="url(#gk)" opacity="0.95"/>
<ellipse cx="143" cy="503.5" rx="6.16" ry="3.872" fill="url(#gk)" opacity="1"/>
<ellipse cx="127" cy="506" rx="4.4" ry="3.168" fill="url(#gk)" opacity="0.95"/>
<ellipse cx="147" cy="493" rx="2.64" ry="2.64" fill="url(#gk)" opacity="0.7"/>
<ellipse cx="32" cy="506" rx="7.04" ry="3.52" fill="url(#gk)" opacity="1"/>
<ellipse cx="48" cy="506.5" rx="4.4" ry="2.64" fill="url(#gk)" opacity="0.7"/>
<ellipse cx="38" cy="447" rx="4.1184" ry="10.296" fill="url(#gw)" opacity="0.504"/>
<ellipse cx="42" cy="460" rx="4.576" ry="6.24" fill="url(#gw)" opacity="0.392"/>
<ellipse cx="61" cy="465" rx="5.0336" ry="4.576" fill="url(#gw)" opacity="0.448"/>
<ellipse cx="86" cy="452.4" rx="4.576" ry="4.576" fill="url(#gw)" opacity="0.448"/>
<path d="M38.5 486.0C39.7 484.9 43.1 481.6 45.5 479.5C47.9 477.4 51.8 474.5 53.0 473.5" fill="none" stroke="#fff" stroke-width="11.11" stroke-linecap="round" stroke-linejoin="round" opacity="0.070"/>
<path d="M38.5 486.0C39.7 484.9 43.1 481.6 45.5 479.5C47.9 477.4 51.8 474.5 53.0 473.5" fill="none" stroke="#fff" stroke-width="8.45" stroke-linecap="round" stroke-linejoin="round" opacity="0.135"/>
<path d="M38.5 486.0C39.7 484.9 43.1 481.6 45.5 479.5C47.9 477.4 51.8 474.5 53.0 473.5" fill="none" stroke="#fff" stroke-width="6.28" stroke-linecap="round" stroke-linejoin="round" opacity="0.261"/>
<path d="M38.5 486.0C39.7 484.9 43.1 481.6 45.5 479.5C47.9 477.4 51.8 474.5 53.0 473.5" fill="none" stroke="#fff" stroke-width="4.59" stroke-linecap="round" stroke-linejoin="round" opacity="0.318"/>
<path d="M38.5 486.0C39.7 484.9 43.1 481.6 45.5 479.5C47.9 477.4 51.8 474.5 53.0 473.5" fill="none" stroke="#fff" stroke-width="2.66" stroke-linecap="round" stroke-linejoin="round" opacity="0.259"/>
<ellipse cx="44" cy="493" rx="4.1184" ry="9.152" fill="url(#gw)" opacity="0.504" transform="rotate(10 44 493)"/>
<ellipse cx="24" cy="494" rx="5.72" ry="6.864" fill="url(#gw)" opacity="0.504"/>
<ellipse cx="28" cy="500.5" rx="5.72" ry="5.72" fill="url(#gw)" opacity="0.504"/>
<ellipse cx="97" cy="486" rx="4.576" ry="9.152" fill="url(#gw)" opacity="0.448" transform="rotate(30 97 486)"/>
<ellipse cx="118" cy="443" rx="5.0336" ry="9.152" fill="url(#gw)" opacity="0.616"/>
<path d="M111.5 450.0C112.4 451.2 115.2 454.5 117.0 457.0C118.8 459.5 121.2 463.7 122.0 465.0" fill="none" stroke="#fff" stroke-width="7.25" stroke-linecap="round" stroke-linejoin="round" opacity="0.050"/>
<path d="M111.5 450.0C112.4 451.2 115.2 454.5 117.0 457.0C118.8 459.5 121.2 463.7 122.0 465.0" fill="none" stroke="#fff" stroke-width="5.51" stroke-linecap="round" stroke-linejoin="round" opacity="0.095"/>
<path d="M111.5 450.0C112.4 451.2 115.2 454.5 117.0 457.0C118.8 459.5 121.2 463.7 122.0 465.0" fill="none" stroke="#fff" stroke-width="4.10" stroke-linecap="round" stroke-linejoin="round" opacity="0.174"/>
<path d="M111.5 450.0C112.4 451.2 115.2 454.5 117.0 457.0C118.8 459.5 121.2 463.7 122.0 465.0" fill="none" stroke="#fff" stroke-width="2.99" stroke-linecap="round" stroke-linejoin="round" opacity="0.190"/>
<path d="M111.5 450.0C112.4 451.2 115.2 454.5 117.0 457.0C118.8 459.5 121.2 463.7 122.0 465.0" fill="none" stroke="#fff" stroke-width="1.73" stroke-linecap="round" stroke-linejoin="round" opacity="0.130"/>
<ellipse cx="125" cy="452" rx="5.0336" ry="10.296" fill="url(#gw)" opacity="0.672"/>
<ellipse cx="126.6" cy="472.4" rx="5.72" ry="6.4064" fill="url(#gw)" opacity="0.728"/>
<path d="M98.0 488.0C99.2 486.6 103.1 482.1 105.5 479.5C107.9 476.9 111.3 473.7 112.5 472.5" fill="none" stroke="#fff" stroke-width="7.73" stroke-linecap="round" stroke-linejoin="round" opacity="0.055"/>
<path d="M98.0 488.0C99.2 486.6 103.1 482.1 105.5 479.5C107.9 476.9 111.3 473.7 112.5 472.5" fill="none" stroke="#fff" stroke-width="5.88" stroke-linecap="round" stroke-linejoin="round" opacity="0.105"/>
<path d="M98.0 488.0C99.2 486.6 103.1 482.1 105.5 479.5C107.9 476.9 111.3 473.7 112.5 472.5" fill="none" stroke="#fff" stroke-width="4.37" stroke-linecap="round" stroke-linejoin="round" opacity="0.195"/>
<path d="M98.0 488.0C99.2 486.6 103.1 482.1 105.5 479.5C107.9 476.9 111.3 473.7 112.5 472.5" fill="none" stroke="#fff" stroke-width="3.19" stroke-linecap="round" stroke-linejoin="round" opacity="0.218"/>
<path d="M98.0 488.0C99.2 486.6 103.1 482.1 105.5 479.5C107.9 476.9 111.3 473.7 112.5 472.5" fill="none" stroke="#fff" stroke-width="1.85" stroke-linecap="round" stroke-linejoin="round" opacity="0.155"/>
<ellipse cx="105" cy="479.5" rx="4.576" ry="5.72" fill="url(#gw)" opacity="0.448" transform="rotate(40 105 479.5)"/>
<ellipse cx="136" cy="501" rx="3.6608" ry="3.6608" fill="url(#gw)" opacity="0.504"/>
<ellipse cx="129" cy="503" rx="3.6608" ry="3.6608" fill="url(#gw)" opacity="0.504"/>
<ellipse cx="148.5" cy="466" rx="3.432" ry="5.72" fill="url(#gw)" opacity="0.504"/>
<ellipse cx="56.5" cy="428" rx="26" ry="9" fill="url(#pw)" opacity="0.74" transform="rotate(-7 56.5 428)"/>
<ellipse cx="43" cy="430" rx="8" ry="5.5" fill="url(#pw)" opacity="0.6"/>
<ellipse cx="70" cy="426" rx="9" ry="5" fill="url(#pw)" opacity="0.6" transform="rotate(-10 70 426)"/>
<ellipse cx="55" cy="425" rx="16.016" ry="8.008" fill="url(#gw)" opacity="0.56"/>
<ellipse cx="148.6" cy="413" rx="3.4" ry="2.6" fill="url(#pw)" opacity="0.85"/>
</g></g>
<path d="M22.5 445.7C24.2 445.2 29.1 443.9 32.5 443.0C35.8 442.1 39.1 441.1 42.4 440.1C45.7 439.1 49.0 438.0 52.4 436.9C55.7 435.9 59.0 434.8 62.3 433.7C65.6 432.5 69.0 431.4 72.3 430.3C75.6 429.2 78.9 428.1 82.2 427.0C85.5 425.9 88.9 424.7 92.2 423.7C95.5 422.6 98.8 421.5 102.1 420.5C105.5 419.5 108.8 418.5 112.1 417.6C115.4 416.6 118.7 415.7 122.0 414.9C125.4 414.1 130.3 413.0 132.0 412.6" fill="none" stroke="#111" stroke-width="1.45" stroke-dasharray="3.7 1.7" clip-path="url(#clipf)"/>
<path d="M22.5 479.3C24.4 478.1 30.1 474.5 33.9 472.1C37.7 469.7 41.5 467.4 45.2 465.1C49.0 462.8 52.8 460.6 56.6 458.4C60.4 456.2 64.2 454.0 68.0 451.8C71.8 449.7 75.6 447.6 79.4 445.5C83.2 443.5 86.9 441.5 90.7 439.5C94.5 437.5 98.3 435.5 102.1 433.5C105.9 431.6 109.7 429.7 113.5 427.8C117.3 426.0 121.1 424.1 124.9 422.3C128.6 420.5 132.4 418.7 136.2 416.9C140.0 415.1 145.7 412.5 147.6 411.7" fill="none" stroke="#111" stroke-width="1.45" stroke-dasharray="3.7 1.7" clip-path="url(#clipf)"/>
<rect x="22.50" y="395.00" width="128.25" height="112.50" fill="none" stroke="#555" stroke-width="0.55"/>
<path d="M22.50 393.92v1.8M25.31 394.46v0.9M28.12 394.46v0.9M30.93 394.46v0.9M33.74 394.46v0.9M36.55 394.46v0.9M39.36 394.46v0.9M42.17 394.46v0.9M44.98 394.46v0.9M47.79 394.46v0.9M50.60 393.92v1.8M53.41 394.46v0.9M56.22 394.46v0.9M59.03 394.46v0.9M61.84 394.46v0.9M64.65 394.46v0.9M67.46 394.46v0.9M70.27 394.46v0.9M73.08 394.46v0.9M75.89 394.46v0.9M78.70 393.92v1.8M81.51 394.46v0.9M84.32 394.46v0.9M87.13 394.46v0.9M89.94 394.46v0.9M92.75 394.46v0.9M95.56 394.46v0.9M98.37 394.46v0.9M101.18 394.46v0.9M103.99 394.46v0.9M106.80 393.92v1.8M109.61 394.46v0.9M112.42 394.46v0.9M115.23 394.46v0.9M118.04 394.46v0.9M120.85 394.46v0.9M123.66 394.46v0.9M126.47 394.46v0.9M129.28 394.46v0.9M132.09 394.46v0.9M134.90 393.92v1.8M137.71 394.46v0.9M140.52 394.46v0.9M143.33 394.46v0.9M146.14 394.46v0.9M148.95 394.46v0.9M21.42 395.00h1.8M21.96 398.20h0.9M21.96 401.40h0.9M21.96 404.60h0.9M21.96 407.80h0.9M21.96 411.00h0.9M21.96 414.20h0.9M21.96 417.40h0.9M21.96 420.60h0.9M21.96 423.80h0.9M21.42 427.00h1.8M21.96 430.20h0.9M21.96 433.40h0.9M21.96 436.60h0.9M21.96 439.80h0.9M21.96 443.00h0.9M21.96 446.20h0.9M21.96 449.40h0.9M21.96 452.60h0.9M21.96 455.80h0.9M21.42 459.00h1.8M21.96 462.20h0.9M21.96 465.40h0.9M21.96 468.60h0.9M21.96 471.80h0.9M21.96 475.00h0.9M21.96 478.20h0.9M21.96 481.40h0.9M21.96 484.60h0.9M21.96 487.80h0.9M21.42 491.00h1.8M21.96 494.20h0.9M21.96 497.40h0.9M21.96 500.60h0.9M21.96 503.80h0.9M21.96 507.00h0.9" stroke="#333" stroke-width="0.45" fill="none"/>
<text x="22.50" y="390.70" text-anchor="middle" font-size="5.9">0</text>
<text x="50.60" y="390.70" text-anchor="middle" font-size="5.9">1</text>
<text x="78.70" y="390.70" text-anchor="middle" font-size="5.9">2</text>
<text x="106.80" y="390.70" text-anchor="middle" font-size="5.9">3</text>
<text x="134.90" y="390.70" text-anchor="middle" font-size="5.9">4</text>
<text x="19.20" y="397.10" text-anchor="end" font-size="5.9">0</text>
<text x="19.20" y="429.10" text-anchor="end" font-size="5.9">1</text>
<text x="19.20" y="461.10" text-anchor="end" font-size="5.9">2</text>
<text x="19.20" y="493.10" text-anchor="end" font-size="5.9">3</text>
<text x="86.62" y="382.20" text-anchor="middle">Horizontal Position (km)</text>
<text transform="translate(10.30 450.25) rotate(-90)" text-anchor="middle">Depth Below Datum (km)</text>
<rect x="29.92" y="510.10" width="113.40" height="3.00" fill="url(#cb)" stroke="#555" stroke-width="0.3"/>
<text x="29.92" y="519.40" text-anchor="middle" font-size="5.9">-0.1</text>
<text x="58.27" y="519.40" text-anchor="middle" font-size="5.9">-0.05</text>
<text x="86.62" y="519.40" text-anchor="middle" font-size="5.9">0</text>
<text x="114.98" y="519.40" text-anchor="middle" font-size="5.9">0.05</text>
<text x="143.32" y="519.40" text-anchor="middle" font-size="5.9">0.1</text>
<text x="86.62" y="525.60" text-anchor="middle">Thomsen Parameter <tspan font-style="italic">δ</tspan></text>
<text class="cap" x="77.00" y="544.10" text-anchor="middle">(<tspan>f</tspan>)</text>
<clipPath id="clipg"><polygon points="182.3,417.6 262.0,418.0 303.0,416.0 323.5,414.4 350.0,412.7 350.0,507.5 182.3,507.5"/></clipPath>
<g clip-path="url(#clipg)"><g filter="url(#cmg)">
<rect x="177.3" y="390.0" width="177.7" height="122.5" fill="rgb(122,122,122)"/>
<ellipse cx="225" cy="440" rx="41.6" ry="19.2" fill="url(#gk)" opacity="0.2" transform="rotate(-20 225 440)"/>
<ellipse cx="285" cy="470" rx="28.8" ry="32" fill="url(#gk)" opacity="0.25"/>
<ellipse cx="240" cy="490" rx="28.8" ry="19.2" fill="url(#gk)" opacity="0.22"/>
<ellipse cx="200" cy="445" rx="16" ry="12.8" fill="url(#gk)" opacity="0.2"/>
<ellipse cx="194" cy="460" rx="9.6" ry="9.6" fill="url(#gk)" opacity="0.22"/>
<ellipse cx="206" cy="446" rx="8" ry="6.4" fill="url(#gw)" opacity="0.18"/>
<ellipse cx="335" cy="425" rx="16" ry="9.6" fill="url(#gk)" opacity="0.22"/>
<ellipse cx="300" cy="445" rx="12.8" ry="12.8" fill="url(#gk)" opacity="0.2"/>
<ellipse cx="197" cy="460" rx="12.8" ry="12.8" fill="url(#gw)" opacity="0.22"/>
<ellipse cx="212" cy="428" rx="12.8" ry="9.6" fill="url(#gw)" opacity="0.22"/>
<ellipse cx="236" cy="432" rx="11.2" ry="11.2" fill="url(#gw)" opacity="0.2"/>
<ellipse cx="253" cy="455" rx="14.4" ry="9.6" fill="url(#gw)" opacity="0.3"/>
<ellipse cx="278" cy="448" rx="12.8" ry="19.2" fill="url(#gw)" opacity="0.2"/>
<ellipse cx="325" cy="485" rx="28.8" ry="25.6" fill="url(#gw)" opacity="0.22"/>
<ellipse cx="343" cy="450" rx="8" ry="35.2" fill="url(#gw)" opacity="0.22"/>
<ellipse cx="225" cy="488" rx="12.8" ry="9.6" fill="url(#gw)" opacity="0.2"/>
<ellipse cx="184.2" cy="420.5" rx="3" ry="2.8" fill="url(#pk)" opacity="0.75"/>
<ellipse cx="183.3" cy="427.7" rx="3.8" ry="3.8" fill="url(#pk)" opacity="0.95"/>
<ellipse cx="196" cy="505.6" rx="3.4" ry="3" fill="url(#pk)" opacity="0.95"/>
<ellipse cx="222" cy="476.9" rx="3.2" ry="3.2" fill="url(#gk)" opacity="0.55"/>
<ellipse cx="219" cy="484" rx="3.2" ry="3.2" fill="url(#gk)" opacity="0.55"/>
<ellipse cx="211.8" cy="498" rx="3.2" ry="3.2" fill="url(#gk)" opacity="0.55"/>
<ellipse cx="203.6" cy="500.4" rx="3.2" ry="3.2" fill="url(#gk)" opacity="0.55"/>
<ellipse cx="349" cy="485" rx="3.52" ry="4.8" fill="url(#gk)" opacity="1"/>
<ellipse cx="345" cy="506.6" rx="3.52" ry="2.56" fill="url(#gk)" opacity="0.8"/>
<ellipse cx="318.4" cy="494.7" rx="3.84" ry="3.84" fill="url(#gk)" opacity="1"/>
<ellipse cx="322.5" cy="499.4" rx="2.56" ry="4.8" fill="url(#gk)" opacity="0.9" transform="rotate(-40 322.5 499.4)"/>
<ellipse cx="300" cy="496.4" rx="3.68" ry="3.68" fill="url(#gk)" opacity="0.75"/>
<ellipse cx="337.9" cy="476.9" rx="4" ry="3.2" fill="url(#gk)" opacity="0.4"/>
<path d="M190.5 498.4C191.6 496.8 194.4 491.9 197.0 489.0C199.6 486.1 202.7 483.7 206.0 481.0C209.3 478.3 215.2 474.3 217.0 473.0" fill="none" stroke="#fff" stroke-width="10.76" stroke-linecap="round" stroke-linejoin="round" opacity="0.054"/>
<path d="M190.5 498.4C191.6 496.8 194.4 491.9 197.0 489.0C199.6 486.1 202.7 483.7 206.0 481.0C209.3 478.3 215.2 474.3 217.0 473.0" fill="none" stroke="#fff" stroke-width="8.19" stroke-linecap="round" stroke-linejoin="round" opacity="0.103"/>
<path d="M190.5 498.4C191.6 496.8 194.4 491.9 197.0 489.0C199.6 486.1 202.7 483.7 206.0 481.0C209.3 478.3 215.2 474.3 217.0 473.0" fill="none" stroke="#fff" stroke-width="6.08" stroke-linecap="round" stroke-linejoin="round" opacity="0.191"/>
<path d="M190.5 498.4C191.6 496.8 194.4 491.9 197.0 489.0C199.6 486.1 202.7 483.7 206.0 481.0C209.3 478.3 215.2 474.3 217.0 473.0" fill="none" stroke="#fff" stroke-width="4.45" stroke-linecap="round" stroke-linejoin="round" opacity="0.212"/>
<path d="M190.5 498.4C191.6 496.8 194.4 491.9 197.0 489.0C199.6 486.1 202.7 483.7 206.0 481.0C209.3 478.3 215.2 474.3 217.0 473.0" fill="none" stroke="#fff" stroke-width="2.57" stroke-linecap="round" stroke-linejoin="round" opacity="0.150"/>
<ellipse cx="192.4" cy="495.3" rx="4.16" ry="4.16" fill="url(#gw)" opacity="0.448"/>
<ellipse cx="197.5" cy="488.6" rx="4.16" ry="4.16" fill="url(#gw)" opacity="0.448"/>
<ellipse cx="214.9" cy="475.4" rx="4.16" ry="4.16" fill="url(#gw)" opacity="0.448"/>
<ellipse cx="230.9" cy="433.8" rx="4.576" ry="4.16" fill="url(#gw)" opacity="0.504"/>
<ellipse cx="248.7" cy="420.5" rx="3.744" ry="5.824" fill="url(#gw)" opacity="0.504"/>
<ellipse cx="267.5" cy="425" rx="6.24" ry="6.24" fill="url(#gw)" opacity="0.728"/>
<ellipse cx="213.9" cy="430.8" rx="4" ry="4" fill="url(#gw)" opacity="0.3"/>
<ellipse cx="250.8" cy="455.4" rx="9.36" ry="4.576" fill="url(#gw)" opacity="0.392"/>
<path d="M291.0 421.5C292.5 421.2 296.5 420.6 300.0 420.0C303.5 419.4 310.0 418.3 312.0 418.0" fill="none" stroke="#fff" stroke-width="7.45" stroke-linecap="round" stroke-linejoin="round" opacity="0.050"/>
<path d="M291.0 421.5C292.5 421.2 296.5 420.6 300.0 420.0C303.5 419.4 310.0 418.3 312.0 418.0" fill="none" stroke="#fff" stroke-width="5.67" stroke-linecap="round" stroke-linejoin="round" opacity="0.095"/>
<path d="M291.0 421.5C292.5 421.2 296.5 420.6 300.0 420.0C303.5 419.4 310.0 418.3 312.0 418.0" fill="none" stroke="#fff" stroke-width="4.21" stroke-linecap="round" stroke-linejoin="round" opacity="0.174"/>
<path d="M291.0 421.5C292.5 421.2 296.5 420.6 300.0 420.0C303.5 419.4 310.0 418.3 312.0 418.0" fill="none" stroke="#fff" stroke-width="3.08" stroke-linecap="round" stroke-linejoin="round" opacity="0.190"/>
<path d="M291.0 421.5C292.5 421.2 296.5 420.6 300.0 420.0C303.5 419.4 310.0 418.3 312.0 418.0" fill="none" stroke="#fff" stroke-width="1.78" stroke-linecap="round" stroke-linejoin="round" opacity="0.130"/>
<ellipse cx="313.3" cy="418" rx="4.784" ry="4.16" fill="url(#gw)" opacity="0.672"/>
<ellipse cx="321.5" cy="432.8" rx="7.488" ry="7.488" fill="url(#gw)" opacity="0.6944"/>
<ellipse cx="315" cy="429" rx="6.24" ry="5.2" fill="url(#gw)" opacity="0.448"/>
<path d="M332.0 441.5C331.8 442.6 331.0 445.8 330.5 448.0C330.0 450.2 329.1 453.8 328.8 455.0" fill="none" stroke="#fff" stroke-width="7.45" stroke-linecap="round" stroke-linejoin="round" opacity="0.055"/>
<path d="M332.0 441.5C331.8 442.6 331.0 445.8 330.5 448.0C330.0 450.2 329.1 453.8 328.8 455.0" fill="none" stroke="#fff" stroke-width="5.67" stroke-linecap="round" stroke-linejoin="round" opacity="0.105"/>
<path d="M332.0 441.5C331.8 442.6 331.0 445.8 330.5 448.0C330.0 450.2 329.1 453.8 328.8 455.0" fill="none" stroke="#fff" stroke-width="4.21" stroke-linecap="round" stroke-linejoin="round" opacity="0.195"/>
<path d="M332.0 441.5C331.8 442.6 331.0 445.8 330.5 448.0C330.0 450.2 329.1 453.8 328.8 455.0" fill="none" stroke="#fff" stroke-width="3.08" stroke-linecap="round" stroke-linejoin="round" opacity="0.218"/>
<path d="M332.0 441.5C331.8 442.6 331.0 445.8 330.5 448.0C330.0 450.2 329.1 453.8 328.8 455.0" fill="none" stroke="#fff" stroke-width="1.78" stroke-linecap="round" stroke-linejoin="round" opacity="0.155"/>
<ellipse cx="328.8" cy="454" rx="6.24" ry="6.24" fill="url(#gw)" opacity="0.56"/>
<path d="M329.7 471.8C330.8 470.8 333.9 467.2 336.0 465.5C338.1 463.8 341.0 462.2 342.0 461.5" fill="none" stroke="#fff" stroke-width="6.21" stroke-linecap="round" stroke-linejoin="round" opacity="0.050"/>
<path d="M329.7 471.8C330.8 470.8 333.9 467.2 336.0 465.5C338.1 463.8 341.0 462.2 342.0 461.5" fill="none" stroke="#fff" stroke-width="4.73" stroke-linecap="round" stroke-linejoin="round" opacity="0.095"/>
<path d="M329.7 471.8C330.8 470.8 333.9 467.2 336.0 465.5C338.1 463.8 341.0 462.2 342.0 461.5" fill="none" stroke="#fff" stroke-width="3.51" stroke-linecap="round" stroke-linejoin="round" opacity="0.174"/>
<path d="M329.7 471.8C330.8 470.8 333.9 467.2 336.0 465.5C338.1 463.8 341.0 462.2 342.0 461.5" fill="none" stroke="#fff" stroke-width="2.56" stroke-linecap="round" stroke-linejoin="round" opacity="0.190"/>
<path d="M329.7 471.8C330.8 470.8 333.9 467.2 336.0 465.5C338.1 463.8 341.0 462.2 342.0 461.5" fill="none" stroke="#fff" stroke-width="1.49" stroke-linecap="round" stroke-linejoin="round" opacity="0.130"/>
<ellipse cx="314.9" cy="465.2" rx="4.16" ry="4.576" fill="url(#gw)" opacity="0.504"/>
<ellipse cx="295.8" cy="488.2" rx="4.16" ry="6.24" fill="url(#gw)" opacity="0.56" transform="rotate(30 295.8 488.2)"/>
<ellipse cx="306" cy="478" rx="4" ry="4" fill="url(#gw)" opacity="0.3"/>
<ellipse cx="338.9" cy="484" rx="7.28" ry="3.744" fill="url(#gw)" opacity="0.448" transform="rotate(-35 338.9 484)"/>
<ellipse cx="349" cy="495.3" rx="2.5" ry="4.2" fill="url(#pw)" opacity="0.9"/>
<ellipse cx="346" cy="500.5" rx="5.2" ry="4.16" fill="url(#gw)" opacity="0.504"/>
<ellipse cx="333.8" cy="505.6" rx="5.2" ry="3.744" fill="url(#gw)" opacity="0.616"/>
</g></g>
<path d="M182.1 480.9C184.1 479.4 190.1 475.0 194.0 472.2C198.0 469.4 202.0 466.6 206.0 464.0C209.9 461.3 213.9 458.7 217.9 456.3C221.9 453.8 225.8 451.4 229.8 449.1C233.8 446.8 237.8 444.6 241.7 442.5C245.7 440.4 249.7 438.4 253.7 436.5C257.6 434.6 261.6 432.8 265.6 431.1C269.6 429.4 273.5 427.8 277.5 426.3C281.5 424.8 285.5 423.4 289.4 422.1C293.4 420.8 297.4 419.7 301.4 418.6C305.3 417.6 311.3 416.3 313.3 415.8" fill="none" stroke="#111" stroke-width="1.45" stroke-dasharray="3.7 1.7" clip-path="url(#clipg)"/>
<path d="M237.4 507.7C239.0 505.7 243.7 499.8 246.8 495.9C249.9 492.0 253.1 488.1 256.2 484.3C259.4 480.5 262.5 476.7 265.6 473.1C268.8 469.4 271.9 465.8 275.0 462.3C278.2 458.8 281.3 455.4 284.4 452.2C287.6 449.0 290.7 445.9 293.9 442.9C297.0 440.0 300.1 437.2 303.3 434.6C306.4 432.1 309.5 429.7 312.7 427.5C315.8 425.3 318.9 423.4 322.1 421.6C325.2 419.9 328.4 418.5 331.5 417.3C334.6 416.1 339.3 415.0 340.9 414.6" fill="none" stroke="#111" stroke-width="1.45" stroke-dasharray="3.7 1.7" clip-path="url(#clipg)"/>
<rect x="182.30" y="395.00" width="167.70" height="112.50" fill="none" stroke="#555" stroke-width="0.55"/>
<path d="M182.30 393.92v1.8M185.11 394.46v0.9M187.92 394.46v0.9M190.73 394.46v0.9M193.54 394.46v0.9M196.35 394.46v0.9M199.16 394.46v0.9M201.97 394.46v0.9M204.78 394.46v0.9M207.59 394.46v0.9M210.40 393.92v1.8M213.21 394.46v0.9M216.02 394.46v0.9M218.83 394.46v0.9M221.64 394.46v0.9M224.45 394.46v0.9M227.26 394.46v0.9M230.07 394.46v0.9M232.88 394.46v0.9M235.69 394.46v0.9M238.50 393.92v1.8M241.31 394.46v0.9M244.12 394.46v0.9M246.93 394.46v0.9M249.74 394.46v0.9M252.55 394.46v0.9M255.36 394.46v0.9M258.17 394.46v0.9M260.98 394.46v0.9M263.79 394.46v0.9M266.60 393.92v1.8M269.41 394.46v0.9M272.22 394.46v0.9M275.03 394.46v0.9M277.84 394.46v0.9M280.65 394.46v0.9M283.46 394.46v0.9M286.27 394.46v0.9M289.08 394.46v0.9M291.89 394.46v0.9M294.70 393.92v1.8M297.51 394.46v0.9M300.32 394.46v0.9M303.13 394.46v0.9M305.94 394.46v0.9M308.75 394.46v0.9M311.56 394.46v0.9M314.37 394.46v0.9M317.18 394.46v0.9M319.99 394.46v0.9M322.80 393.92v1.8M325.61 394.46v0.9M328.42 394.46v0.9M331.23 394.46v0.9M334.04 394.46v0.9M336.85 394.46v0.9M339.66 394.46v0.9M342.47 394.46v0.9M345.28 394.46v0.9M348.09 394.46v0.9M181.22 395.00h1.8M181.76 398.20h0.9M181.76 401.40h0.9M181.76 404.60h0.9M181.76 407.80h0.9M181.76 411.00h0.9M181.76 414.20h0.9M181.76 417.40h0.9M181.76 420.60h0.9M181.76 423.80h0.9M181.22 427.00h1.8M181.76 430.20h0.9M181.76 433.40h0.9M181.76 436.60h0.9M181.76 439.80h0.9M181.76 443.00h0.9M181.76 446.20h0.9M181.76 449.40h0.9M181.76 452.60h0.9M181.76 455.80h0.9M181.22 459.00h1.8M181.76 462.20h0.9M181.76 465.40h0.9M181.76 468.60h0.9M181.76 471.80h0.9M181.76 475.00h0.9M181.76 478.20h0.9M181.76 481.40h0.9M181.76 484.60h0.9M181.76 487.80h0.9M181.22 491.00h1.8M181.76 494.20h0.9M181.76 497.40h0.9M181.76 500.60h0.9M181.76 503.80h0.9M181.76 507.00h0.9" stroke="#333" stroke-width="0.45" fill="none"/>
<text x="182.30" y="390.70" text-anchor="middle" font-size="5.9">0</text>
<text x="210.40" y="390.70" text-anchor="middle" font-size="5.9">1</text>
<text x="238.50" y="390.70" text-anchor="middle" font-size="5.9">2</text>
<text x="266.60" y="390.70" text-anchor="middle" font-size="5.9">3</text>
<text x="294.70" y="390.70" text-anchor="middle" font-size="5.9">4</text>
<text x="322.80" y="390.70" text-anchor="middle" font-size="5.9">5</text>
<text x="179.00" y="397.10" text-anchor="end" font-size="5.9">0</text>
<text x="179.00" y="429.10" text-anchor="end" font-size="5.9">1</text>
<text x="179.00" y="461.10" text-anchor="end" font-size="5.9">2</text>
<text x="179.00" y="493.10" text-anchor="end" font-size="5.9">3</text>
<text x="266.15" y="382.20" text-anchor="middle">Horizontal Position (km)</text>
<text transform="translate(170.10 450.25) rotate(-90)" text-anchor="middle">Depth Below Datum (km)</text>
<rect x="209.45" y="510.10" width="113.40" height="3.00" fill="url(#cb)" stroke="#555" stroke-width="0.3"/>
<text x="209.45" y="519.40" text-anchor="middle" font-size="5.9">-0.1</text>
<text x="237.80" y="519.40" text-anchor="middle" font-size="5.9">-0.05</text>
<text x="266.15" y="519.40" text-anchor="middle" font-size="5.9">0</text>
<text x="294.50" y="519.40" text-anchor="middle" font-size="5.9">0.05</text>
<text x="322.85" y="519.40" text-anchor="middle" font-size="5.9">0.1</text>
<text x="266.15" y="525.60" text-anchor="middle">Thomsen Parameter <tspan font-style="italic">δ</tspan></text>
<text class="cap" x="256.40" y="544.10" text-anchor="middle">(<tspan>g</tspan>)</text>
</svg></body></html>
